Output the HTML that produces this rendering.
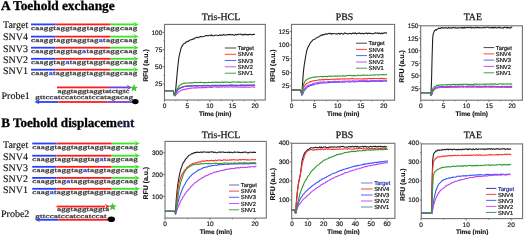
<!DOCTYPE html>
<html><head><meta charset="utf-8"><style>
html,body{margin:0;padding:0;background:#fff;width:524px;height:235px;overflow:hidden}
svg{display:block;will-change:transform;text-rendering:geometricPrecision}
</style></head><body>
<svg width="524" height="235" viewBox="0 0 524 235">
<rect width="524" height="235" fill="#fff"/>
<rect x="164.50" y="24.40" width="100.80" height="75.60" fill="none" stroke="#707070" stroke-width="1.1"/>
<text x="221.00" y="20.00" font-family="'Liberation Serif', serif" font-size="9.8" fill="#111" stroke="#111" stroke-width="0.25" text-anchor="middle">Tris-HCL</text>
<line x1="162.70" y1="84.00" x2="164.50" y2="84.00" stroke="#555" stroke-width="0.8"/>
<text x="162.30" y="86.30" font-family="'Liberation Sans', sans-serif" font-size="6.5" fill="#222" stroke="#222" stroke-width="0.2" text-anchor="end">25</text>
<line x1="162.70" y1="66.80" x2="164.50" y2="66.80" stroke="#555" stroke-width="0.8"/>
<text x="162.30" y="69.10" font-family="'Liberation Sans', sans-serif" font-size="6.5" fill="#222" stroke="#222" stroke-width="0.2" text-anchor="end">50</text>
<line x1="162.70" y1="49.60" x2="164.50" y2="49.60" stroke="#555" stroke-width="0.8"/>
<text x="162.30" y="51.90" font-family="'Liberation Sans', sans-serif" font-size="6.5" fill="#222" stroke="#222" stroke-width="0.2" text-anchor="end">75</text>
<line x1="162.70" y1="32.40" x2="164.50" y2="32.40" stroke="#555" stroke-width="0.8"/>
<text x="162.30" y="34.70" font-family="'Liberation Sans', sans-serif" font-size="6.5" fill="#222" stroke="#222" stroke-width="0.2" text-anchor="end">100</text>
<line x1="163.30" y1="75.40" x2="164.50" y2="75.40" stroke="#555" stroke-width="0.6"/>
<line x1="163.30" y1="58.20" x2="164.50" y2="58.20" stroke="#555" stroke-width="0.6"/>
<line x1="163.30" y1="41.00" x2="164.50" y2="41.00" stroke="#555" stroke-width="0.6"/>
<line x1="164.50" y1="100.00" x2="164.50" y2="101.80" stroke="#555" stroke-width="0.8"/>
<text x="164.50" y="108.00" font-family="'Liberation Sans', sans-serif" font-size="6.5" fill="#222" stroke="#222" stroke-width="0.2" text-anchor="middle">0</text>
<line x1="187.20" y1="100.00" x2="187.20" y2="101.80" stroke="#555" stroke-width="0.8"/>
<text x="187.20" y="108.00" font-family="'Liberation Sans', sans-serif" font-size="6.5" fill="#222" stroke="#222" stroke-width="0.2" text-anchor="middle">5</text>
<line x1="209.80" y1="100.00" x2="209.80" y2="101.80" stroke="#555" stroke-width="0.8"/>
<text x="209.80" y="108.00" font-family="'Liberation Sans', sans-serif" font-size="6.5" fill="#222" stroke="#222" stroke-width="0.2" text-anchor="middle">10</text>
<line x1="232.40" y1="100.00" x2="232.40" y2="101.80" stroke="#555" stroke-width="0.8"/>
<text x="232.40" y="108.00" font-family="'Liberation Sans', sans-serif" font-size="6.5" fill="#222" stroke="#222" stroke-width="0.2" text-anchor="middle">15</text>
<line x1="255.00" y1="100.00" x2="255.00" y2="101.80" stroke="#555" stroke-width="0.8"/>
<text x="255.00" y="108.00" font-family="'Liberation Sans', sans-serif" font-size="6.5" fill="#222" stroke="#222" stroke-width="0.2" text-anchor="middle">20</text>
<line x1="175.85" y1="100.00" x2="175.85" y2="101.20" stroke="#555" stroke-width="0.6"/>
<line x1="198.50" y1="100.00" x2="198.50" y2="101.20" stroke="#555" stroke-width="0.6"/>
<line x1="221.10" y1="100.00" x2="221.10" y2="101.20" stroke="#555" stroke-width="0.6"/>
<line x1="243.70" y1="100.00" x2="243.70" y2="101.20" stroke="#555" stroke-width="0.6"/>
<text x="215.10" y="115.80" font-family="'Liberation Sans', sans-serif" font-weight="bold" font-size="6.45" fill="#111" stroke="#111" stroke-width="0.14" text-anchor="middle">Time (min)</text>
<text transform="translate(147.90,65.60) rotate(-90)" font-family="'Liberation Sans', sans-serif" font-weight="bold" font-size="6.9" fill="#111" stroke="#111" stroke-width="0.14" text-anchor="middle">RFU (a.u.)</text>
<path d="M164.50,90.80 L165.30,90.80 L166.10,90.80 L166.90,90.80 L167.70,90.80 L168.50,90.80 L169.30,90.80 L170.10,90.80 L170.90,90.80 L171.70,90.80 L172.50,90.80 L173.30,90.80 L174.10,94.48 L174.90,94.33 L175.70,89.74 L176.50,80.63 L177.30,71.83 L178.10,63.95 L178.90,57.53 L179.70,53.66 L180.50,50.28 L181.30,47.52 L182.10,46.13 L182.90,44.73 L183.70,43.81 L184.50,43.26 L185.30,43.22 L186.10,41.81 L186.90,41.88 L187.70,41.17 L188.50,41.34 L189.30,40.48 L190.10,40.08 L190.90,39.80 L191.70,39.61 L192.50,39.53 L193.30,38.76 L194.10,39.01 L194.90,37.93 L195.70,37.84 L196.50,37.40 L197.30,37.19 L198.10,37.71 L198.90,37.45 L199.70,36.68 L200.50,36.51 L201.30,36.59 L202.10,36.79 L202.90,36.71 L203.70,36.49 L204.50,36.19 L205.30,35.57 L206.10,35.74 L206.90,35.42 L207.70,35.71 L208.50,35.69 L209.30,35.24 L210.10,35.24 L210.90,35.78 L211.70,34.91 L212.50,35.72 L213.30,35.78 L214.10,35.81 L214.90,35.15 L215.70,35.30 L216.50,35.30 L217.30,35.32 L218.10,35.66 L218.90,35.31 L219.70,34.86 L220.50,35.44 L221.30,35.00 L222.10,35.11 L222.90,35.22 L223.70,34.40 L224.50,35.22 L225.30,35.07 L226.10,34.86 L226.90,34.88 L227.70,34.79 L228.50,34.47 L229.30,34.82 L230.10,34.26 L230.90,34.75 L231.70,34.89 L232.50,34.65 L233.30,34.77 L234.10,35.18 L234.90,35.09 L235.70,34.24 L236.50,34.95 L237.30,34.75 L238.10,34.10 L238.90,34.42 L239.70,34.27 L240.50,34.08 L241.30,34.57 L242.10,34.99 L242.90,34.30 L243.70,34.89 L244.50,34.68 L245.30,34.04 L246.10,34.82 L246.90,34.52 L247.70,34.86 L248.50,34.61 L249.30,34.62 L250.10,34.16 L250.90,34.65 L251.70,34.77 L252.50,34.67 L253.30,34.18 L254.10,34.51 L254.90,34.19 L255.00,34.20" fill="none" stroke="#222" stroke-width="1.1" stroke-linejoin="round"/>
<path d="M164.50,90.80 L165.30,90.80 L166.10,90.80 L166.90,90.80 L167.70,90.80 L168.50,90.80 L169.30,90.80 L170.10,90.80 L170.90,90.80 L171.70,90.80 L172.50,90.80 L173.30,90.80 L174.10,94.88 L174.90,95.09 L175.70,93.24 L176.50,92.01 L177.30,90.44 L178.10,89.55 L178.90,88.80 L179.70,88.04 L180.50,87.70 L181.30,87.35 L182.10,87.10 L182.90,86.97 L183.70,86.57 L184.50,86.42 L185.30,86.49 L186.10,85.90 L186.90,86.13 L187.70,86.16 L188.50,85.86 L189.30,85.77 L190.10,86.09 L190.90,85.72 L191.70,85.66 L192.50,85.78 L193.30,85.92 L194.10,85.54 L194.90,85.65 L195.70,85.64 L196.50,85.92 L197.30,85.67 L198.10,85.91 L198.90,85.48 L199.70,85.57 L200.50,85.75 L201.30,85.87 L202.10,85.60 L202.90,85.45 L203.70,85.38 L204.50,85.61 L205.30,85.39 L206.10,85.75 L206.90,85.76 L207.70,85.35 L208.50,85.39 L209.30,85.70 L210.10,85.59 L210.90,85.68 L211.70,85.39 L212.50,85.25 L213.30,85.33 L214.10,85.62 L214.90,85.30 L215.70,85.33 L216.50,85.37 L217.30,85.36 L218.10,85.34 L218.90,85.64 L219.70,85.17 L220.50,85.07 L221.30,85.62 L222.10,85.58 L222.90,85.63 L223.70,85.29 L224.50,85.59 L225.30,85.57 L226.10,85.14 L226.90,85.44 L227.70,85.49 L228.50,85.37 L229.30,85.28 L230.10,85.13 L230.90,85.16 L231.70,85.08 L232.50,84.98 L233.30,85.28 L234.10,85.09 L234.90,85.40 L235.70,84.93 L236.50,85.44 L237.30,85.30 L238.10,85.43 L238.90,85.41 L239.70,85.40 L240.50,85.20 L241.30,84.85 L242.10,85.29 L242.90,84.93 L243.70,85.00 L244.50,85.21 L245.30,85.12 L246.10,85.05 L246.90,85.35 L247.70,85.15 L248.50,84.98 L249.30,84.92 L250.10,85.27 L250.90,85.03 L251.70,85.21 L252.50,84.94 L253.30,84.84 L254.10,85.03 L254.90,85.19 L255.00,85.00" fill="none" stroke="#ff3030" stroke-width="1.1" stroke-linejoin="round"/>
<path d="M164.50,90.80 L165.30,90.80 L166.10,90.80 L166.90,90.80 L167.70,90.80 L168.50,90.80 L169.30,90.80 L170.10,90.80 L170.90,90.80 L171.70,90.80 L172.50,90.80 L173.30,90.80 L174.10,94.88 L174.90,95.33 L175.70,93.29 L176.50,91.46 L177.30,90.39 L178.10,89.48 L178.90,88.69 L179.70,88.09 L180.50,88.27 L181.30,87.88 L182.10,87.13 L182.90,87.12 L183.70,86.78 L184.50,86.58 L185.30,86.44 L186.10,86.48 L186.90,86.34 L187.70,86.13 L188.50,85.99 L189.30,86.04 L190.10,85.88 L190.90,86.11 L191.70,86.18 L192.50,85.95 L193.30,85.74 L194.10,85.78 L194.90,85.88 L195.70,86.00 L196.50,86.09 L197.30,85.83 L198.10,86.07 L198.90,85.95 L199.70,85.82 L200.50,85.78 L201.30,85.84 L202.10,85.95 L202.90,85.77 L203.70,85.92 L204.50,85.77 L205.30,85.63 L206.10,85.79 L206.90,85.87 L207.70,85.49 L208.50,85.69 L209.30,85.68 L210.10,85.94 L210.90,85.97 L211.70,85.62 L212.50,85.92 L213.30,85.85 L214.10,85.52 L214.90,85.63 L215.70,85.42 L216.50,85.83 L217.30,85.73 L218.10,85.85 L218.90,85.79 L219.70,85.71 L220.50,85.74 L221.30,85.63 L222.10,85.34 L222.90,85.63 L223.70,85.27 L224.50,85.35 L225.30,85.72 L226.10,85.27 L226.90,85.29 L227.70,85.29 L228.50,85.75 L229.30,85.32 L230.10,85.22 L230.90,85.71 L231.70,85.27 L232.50,85.70 L233.30,85.59 L234.10,85.68 L234.90,85.74 L235.70,85.51 L236.50,85.64 L237.30,85.17 L238.10,85.61 L238.90,85.45 L239.70,85.56 L240.50,85.19 L241.30,85.57 L242.10,85.67 L242.90,85.14 L243.70,85.29 L244.50,85.43 L245.30,85.58 L246.10,85.23 L246.90,85.18 L247.70,85.22 L248.50,85.43 L249.30,85.50 L250.10,85.28 L250.90,85.26 L251.70,85.27 L252.50,85.23 L253.30,85.27 L254.10,85.06 L254.90,85.30 L255.00,85.30" fill="none" stroke="#3a55ff" stroke-width="1.1" stroke-linejoin="round"/>
<path d="M164.50,90.80 L165.30,90.80 L166.10,90.80 L166.90,90.80 L167.70,90.80 L168.50,90.80 L169.30,90.80 L170.10,90.80 L170.90,90.80 L171.70,90.80 L172.50,90.80 L173.30,90.80 L174.10,94.88 L174.90,95.97 L175.70,95.27 L176.50,94.02 L177.30,93.22 L178.10,92.70 L178.90,91.71 L179.70,91.13 L180.50,90.53 L181.30,90.32 L182.10,89.86 L182.90,89.58 L183.70,89.65 L184.50,89.61 L185.30,89.04 L186.10,89.12 L186.90,88.79 L187.70,88.91 L188.50,88.62 L189.30,88.32 L190.10,88.18 L190.90,87.98 L191.70,88.17 L192.50,88.04 L193.30,87.85 L194.10,87.91 L194.90,87.84 L195.70,88.06 L196.50,87.64 L197.30,88.10 L198.10,87.75 L198.90,87.78 L199.70,87.66 L200.50,87.84 L201.30,87.79 L202.10,87.59 L202.90,87.51 L203.70,87.61 L204.50,87.66 L205.30,87.35 L206.10,87.52 L206.90,87.62 L207.70,87.30 L208.50,87.13 L209.30,87.10 L210.10,87.36 L210.90,87.31 L211.70,87.46 L212.50,87.37 L213.30,86.99 L214.10,86.93 L214.90,86.96 L215.70,86.90 L216.50,87.19 L217.30,87.27 L218.10,87.28 L218.90,86.89 L219.70,87.24 L220.50,86.90 L221.30,86.96 L222.10,87.14 L222.90,86.75 L223.70,86.76 L224.50,87.20 L225.30,86.88 L226.10,86.91 L226.90,87.05 L227.70,87.11 L228.50,86.70 L229.30,86.90 L230.10,86.96 L230.90,86.99 L231.70,86.83 L232.50,87.05 L233.30,87.27 L234.10,86.93 L234.90,87.03 L235.70,86.77 L236.50,86.86 L237.30,87.10 L238.10,86.77 L238.90,87.23 L239.70,87.25 L240.50,86.76 L241.30,87.26 L242.10,86.92 L242.90,87.16 L243.70,87.15 L244.50,86.88 L245.30,87.11 L246.10,87.09 L246.90,87.18 L247.70,86.86 L248.50,87.15 L249.30,87.28 L250.10,87.10 L250.90,87.02 L251.70,86.77 L252.50,87.00 L253.30,86.91 L254.10,87.13 L254.90,87.11 L255.00,87.00" fill="none" stroke="#c040f0" stroke-width="1.1" stroke-linejoin="round"/>
<path d="M164.50,90.80 L165.30,90.80 L166.10,90.80 L166.90,90.80 L167.70,90.80 L168.50,90.80 L169.30,90.80 L170.10,90.80 L170.90,90.80 L171.70,90.80 L172.50,90.80 L173.30,90.80 L174.10,94.88 L174.90,95.17 L175.70,92.42 L176.50,90.22 L177.30,88.86 L178.10,87.52 L178.90,86.08 L179.70,85.35 L180.50,84.82 L181.30,84.05 L182.10,84.11 L182.90,83.71 L183.70,83.28 L184.50,82.93 L185.30,83.29 L186.10,82.98 L186.90,83.07 L187.70,83.12 L188.50,82.97 L189.30,83.05 L190.10,82.70 L190.90,82.90 L191.70,82.65 L192.50,82.92 L193.30,82.86 L194.10,82.36 L194.90,82.36 L195.70,82.38 L196.50,82.81 L197.30,82.48 L198.10,82.57 L198.90,82.36 L199.70,82.47 L200.50,82.38 L201.30,82.35 L202.10,82.48 L202.90,82.47 L203.70,82.65 L204.50,82.50 L205.30,82.64 L206.10,82.59 L206.90,82.66 L207.70,82.45 L208.50,82.14 L209.30,82.55 L210.10,82.60 L210.90,82.56 L211.70,82.35 L212.50,82.42 L213.30,82.11 L214.10,82.48 L214.90,82.32 L215.70,82.14 L216.50,82.00 L217.30,82.46 L218.10,82.54 L218.90,81.99 L219.70,82.41 L220.50,82.17 L221.30,82.01 L222.10,82.09 L222.90,82.37 L223.70,82.42 L224.50,81.92 L225.30,82.26 L226.10,81.91 L226.90,82.31 L227.70,82.07 L228.50,82.40 L229.30,82.45 L230.10,82.16 L230.90,82.45 L231.70,82.03 L232.50,81.89 L233.30,82.20 L234.10,81.85 L234.90,81.95 L235.70,82.07 L236.50,82.18 L237.30,81.91 L238.10,81.83 L238.90,82.33 L239.70,81.99 L240.50,82.37 L241.30,82.33 L242.10,82.01 L242.90,82.06 L243.70,82.09 L244.50,82.16 L245.30,82.12 L246.10,82.10 L246.90,82.13 L247.70,82.32 L248.50,82.05 L249.30,82.00 L250.10,82.17 L250.90,81.87 L251.70,81.91 L252.50,82.31 L253.30,82.03 L254.10,82.04 L254.90,81.71 L255.00,82.00" fill="none" stroke="#2f9a2f" stroke-width="1.1" stroke-linejoin="round"/>
<line x1="224.80" y1="48.00" x2="236.20" y2="48.00" stroke="#333" stroke-width="1.0" stroke-opacity="0.9"/>
<text x="237.80" y="50.10" font-family="'Liberation Sans', sans-serif" font-size="5.8" fill="#1a1a1a" stroke="#1a1a1a" stroke-width="0.22">Target</text>
<line x1="224.80" y1="54.30" x2="236.20" y2="54.30" stroke="#ff3030" stroke-width="1.0" stroke-opacity="0.9"/>
<text x="237.80" y="56.40" font-family="'Liberation Sans', sans-serif" font-size="5.8" fill="#1a1a1a" stroke="#1a1a1a" stroke-width="0.22">SNV4</text>
<line x1="224.80" y1="60.50" x2="236.20" y2="60.50" stroke="#3a55ff" stroke-width="1.0" stroke-opacity="0.9"/>
<text x="237.80" y="62.60" font-family="'Liberation Sans', sans-serif" font-size="5.8" fill="#1a1a1a" stroke="#1a1a1a" stroke-width="0.22">SNV3</text>
<line x1="224.80" y1="66.80" x2="236.20" y2="66.80" stroke="#c040f0" stroke-width="1.0" stroke-opacity="0.9"/>
<text x="237.80" y="68.90" font-family="'Liberation Sans', sans-serif" font-size="5.8" fill="#1a1a1a" stroke="#1a1a1a" stroke-width="0.22">SNV2</text>
<line x1="224.80" y1="73.20" x2="236.20" y2="73.20" stroke="#2f9a2f" stroke-width="1.0" stroke-opacity="0.9"/>
<text x="237.80" y="75.30" font-family="'Liberation Sans', sans-serif" font-size="5.8" fill="#1a1a1a" stroke="#1a1a1a" stroke-width="0.22">SNV1</text>
<rect x="291.50" y="24.40" width="103.10" height="75.80" fill="none" stroke="#707070" stroke-width="1.1"/>
<text x="344.50" y="20.00" font-family="'Liberation Serif', serif" font-size="9.8" fill="#111" stroke="#111" stroke-width="0.25" text-anchor="middle">PBS</text>
<line x1="289.70" y1="86.00" x2="291.50" y2="86.00" stroke="#555" stroke-width="0.8"/>
<text x="289.30" y="88.30" font-family="'Liberation Sans', sans-serif" font-size="6.5" fill="#222" stroke="#222" stroke-width="0.2" text-anchor="end">25</text>
<line x1="289.70" y1="72.40" x2="291.50" y2="72.40" stroke="#555" stroke-width="0.8"/>
<text x="289.30" y="74.70" font-family="'Liberation Sans', sans-serif" font-size="6.5" fill="#222" stroke="#222" stroke-width="0.2" text-anchor="end">50</text>
<line x1="289.70" y1="58.70" x2="291.50" y2="58.70" stroke="#555" stroke-width="0.8"/>
<text x="289.30" y="61.00" font-family="'Liberation Sans', sans-serif" font-size="6.5" fill="#222" stroke="#222" stroke-width="0.2" text-anchor="end">75</text>
<line x1="289.70" y1="45.00" x2="291.50" y2="45.00" stroke="#555" stroke-width="0.8"/>
<text x="289.30" y="47.30" font-family="'Liberation Sans', sans-serif" font-size="6.5" fill="#222" stroke="#222" stroke-width="0.2" text-anchor="end">100</text>
<line x1="289.70" y1="31.40" x2="291.50" y2="31.40" stroke="#555" stroke-width="0.8"/>
<text x="289.30" y="33.70" font-family="'Liberation Sans', sans-serif" font-size="6.5" fill="#222" stroke="#222" stroke-width="0.2" text-anchor="end">125</text>
<line x1="290.30" y1="79.20" x2="291.50" y2="79.20" stroke="#555" stroke-width="0.6"/>
<line x1="290.30" y1="65.55" x2="291.50" y2="65.55" stroke="#555" stroke-width="0.6"/>
<line x1="290.30" y1="51.85" x2="291.50" y2="51.85" stroke="#555" stroke-width="0.6"/>
<line x1="290.30" y1="38.20" x2="291.50" y2="38.20" stroke="#555" stroke-width="0.6"/>
<line x1="291.60" y1="100.20" x2="291.60" y2="102.00" stroke="#555" stroke-width="0.8"/>
<text x="291.60" y="108.20" font-family="'Liberation Sans', sans-serif" font-size="6.5" fill="#222" stroke="#222" stroke-width="0.2" text-anchor="middle">0</text>
<line x1="314.60" y1="100.20" x2="314.60" y2="102.00" stroke="#555" stroke-width="0.8"/>
<text x="314.60" y="108.20" font-family="'Liberation Sans', sans-serif" font-size="6.5" fill="#222" stroke="#222" stroke-width="0.2" text-anchor="middle">5</text>
<line x1="337.70" y1="100.20" x2="337.70" y2="102.00" stroke="#555" stroke-width="0.8"/>
<text x="337.70" y="108.20" font-family="'Liberation Sans', sans-serif" font-size="6.5" fill="#222" stroke="#222" stroke-width="0.2" text-anchor="middle">10</text>
<line x1="360.80" y1="100.20" x2="360.80" y2="102.00" stroke="#555" stroke-width="0.8"/>
<text x="360.80" y="108.20" font-family="'Liberation Sans', sans-serif" font-size="6.5" fill="#222" stroke="#222" stroke-width="0.2" text-anchor="middle">15</text>
<line x1="383.80" y1="100.20" x2="383.80" y2="102.00" stroke="#555" stroke-width="0.8"/>
<text x="383.80" y="108.20" font-family="'Liberation Sans', sans-serif" font-size="6.5" fill="#222" stroke="#222" stroke-width="0.2" text-anchor="middle">20</text>
<line x1="303.10" y1="100.20" x2="303.10" y2="101.40" stroke="#555" stroke-width="0.6"/>
<line x1="326.15" y1="100.20" x2="326.15" y2="101.40" stroke="#555" stroke-width="0.6"/>
<line x1="349.25" y1="100.20" x2="349.25" y2="101.40" stroke="#555" stroke-width="0.6"/>
<line x1="372.30" y1="100.20" x2="372.30" y2="101.40" stroke="#555" stroke-width="0.6"/>
<text x="343.25" y="116.00" font-family="'Liberation Sans', sans-serif" font-weight="bold" font-size="6.45" fill="#111" stroke="#111" stroke-width="0.14" text-anchor="middle">Time (min)</text>
<text transform="translate(274.90,65.70) rotate(-90)" font-family="'Liberation Sans', sans-serif" font-weight="bold" font-size="6.9" fill="#111" stroke="#111" stroke-width="0.14" text-anchor="middle">RFU (a.u.)</text>
<path d="M291.50,90.00 L292.30,90.00 L293.10,90.00 L293.90,90.00 L294.70,90.00 L295.50,90.00 L296.30,90.00 L297.10,90.00 L297.90,90.00 L298.70,90.00 L299.50,90.00 L300.30,90.00 L301.10,91.99 L301.90,94.01 L302.70,81.34 L303.50,70.82 L304.30,64.63 L305.10,59.81 L305.90,54.98 L306.70,50.82 L307.50,48.34 L308.30,46.64 L309.10,45.35 L309.90,43.51 L310.70,42.34 L311.50,41.64 L312.30,40.74 L313.10,39.68 L313.90,39.52 L314.70,39.29 L315.50,38.27 L316.30,37.97 L317.10,37.61 L317.90,37.22 L318.70,36.94 L319.50,36.05 L320.30,35.96 L321.10,35.01 L321.90,35.53 L322.70,34.69 L323.50,34.54 L324.30,34.79 L325.10,33.95 L325.90,33.73 L326.70,34.36 L327.50,34.09 L328.30,33.50 L329.10,33.41 L329.90,33.74 L330.70,33.34 L331.50,34.22 L332.30,33.49 L333.10,33.57 L333.90,33.67 L334.70,33.79 L335.50,33.68 L336.30,33.88 L337.10,33.90 L337.90,33.64 L338.70,33.25 L339.50,34.20 L340.30,33.87 L341.10,33.19 L341.90,33.57 L342.70,33.90 L343.50,34.15 L344.30,33.12 L345.10,33.04 L345.90,33.55 L346.70,33.47 L347.50,33.98 L348.30,33.90 L349.10,33.34 L349.90,33.43 L350.70,33.60 L351.50,33.92 L352.30,33.17 L353.10,33.37 L353.90,33.03 L354.70,33.63 L355.50,32.94 L356.30,33.94 L357.10,33.48 L357.90,33.52 L358.70,32.98 L359.50,33.14 L360.30,33.39 L361.10,33.81 L361.90,33.46 L362.70,33.17 L363.50,33.93 L364.30,33.57 L365.10,33.42 L365.90,33.06 L366.70,33.16 L367.50,33.81 L368.30,32.97 L369.10,33.40 L369.90,33.49 L370.70,33.19 L371.50,33.64 L372.30,33.79 L373.10,33.73 L373.90,33.59 L374.70,33.00 L375.50,32.83 L376.30,33.24 L377.10,33.10 L377.90,32.96 L378.70,33.70 L379.50,32.97 L380.30,33.63 L381.10,33.75 L381.90,32.84 L382.70,33.71 L383.50,33.13 L384.30,32.92 L385.10,32.88 L385.90,32.71 L386.70,33.20 L387.00,33.20" fill="none" stroke="#222" stroke-width="1.1" stroke-linejoin="round"/>
<path d="M291.50,90.00 L292.30,90.00 L293.10,90.00 L293.90,90.00 L294.70,90.00 L295.50,90.00 L296.30,90.00 L297.10,90.00 L297.90,90.00 L298.70,90.00 L299.50,90.00 L300.30,90.00 L301.10,91.58 L301.90,94.44 L302.70,90.60 L303.50,87.60 L304.30,86.07 L305.10,85.25 L305.90,84.15 L306.70,83.42 L307.50,83.01 L308.30,82.87 L309.10,82.45 L309.90,81.74 L310.70,81.54 L311.50,81.69 L312.30,80.98 L313.10,80.95 L313.90,80.66 L314.70,80.71 L315.50,80.46 L316.30,80.45 L317.10,80.21 L317.90,79.93 L318.70,79.85 L319.50,79.72 L320.30,80.10 L321.10,79.61 L321.90,79.50 L322.70,80.01 L323.50,79.49 L324.30,79.86 L325.10,79.32 L325.90,79.51 L326.70,79.32 L327.50,79.64 L328.30,79.47 L329.10,79.45 L329.90,79.48 L330.70,79.52 L331.50,79.17 L332.30,79.29 L333.10,79.17 L333.90,78.94 L334.70,79.35 L335.50,79.19 L336.30,79.30 L337.10,78.91 L337.90,79.09 L338.70,79.03 L339.50,79.17 L340.30,78.76 L341.10,78.91 L341.90,78.97 L342.70,78.71 L343.50,78.99 L344.30,79.08 L345.10,78.88 L345.90,79.00 L346.70,78.97 L347.50,78.72 L348.30,78.79 L349.10,79.16 L349.90,78.76 L350.70,78.80 L351.50,78.58 L352.30,78.65 L353.10,78.61 L353.90,79.06 L354.70,78.93 L355.50,79.01 L356.30,79.07 L357.10,78.84 L357.90,79.02 L358.70,78.77 L359.50,78.70 L360.30,79.01 L361.10,78.97 L361.90,78.99 L362.70,78.70 L363.50,78.87 L364.30,78.64 L365.10,78.99 L365.90,78.94 L366.70,78.55 L367.50,78.93 L368.30,78.48 L369.10,78.42 L369.90,78.79 L370.70,78.52 L371.50,78.65 L372.30,78.72 L373.10,78.35 L373.90,78.77 L374.70,78.48 L375.50,78.57 L376.30,78.51 L377.10,78.74 L377.90,78.74 L378.70,78.45 L379.50,78.34 L380.30,78.45 L381.10,78.51 L381.90,78.30 L382.70,78.34 L383.50,78.69 L384.30,78.65 L385.10,78.81 L385.90,78.80 L386.70,78.73 L387.00,78.50" fill="none" stroke="#ff3030" stroke-width="1.1" stroke-linejoin="round"/>
<path d="M291.50,90.00 L292.30,90.00 L293.10,90.00 L293.90,90.00 L294.70,90.00 L295.50,90.00 L296.30,90.00 L297.10,90.00 L297.90,90.00 L298.70,90.00 L299.50,90.00 L300.30,90.00 L301.10,91.94 L301.90,95.43 L302.70,94.27 L303.50,92.39 L304.30,90.35 L305.10,89.70 L305.90,88.56 L306.70,87.80 L307.50,86.97 L308.30,86.43 L309.10,86.42 L309.90,85.67 L310.70,85.32 L311.50,85.38 L312.30,85.13 L313.10,84.38 L313.90,84.72 L314.70,84.28 L315.50,84.04 L316.30,83.73 L317.10,83.76 L317.90,83.99 L318.70,83.44 L319.50,83.24 L320.30,83.13 L321.10,83.02 L321.90,83.05 L322.70,83.30 L323.50,82.71 L324.30,82.69 L325.10,83.07 L325.90,83.03 L326.70,82.96 L327.50,82.45 L328.30,82.46 L329.10,82.77 L329.90,82.45 L330.70,82.54 L331.50,82.26 L332.30,82.05 L333.10,82.21 L333.90,82.42 L334.70,82.41 L335.50,82.25 L336.30,82.15 L337.10,82.17 L337.90,82.08 L338.70,82.11 L339.50,82.26 L340.30,81.85 L341.10,82.06 L341.90,82.24 L342.70,82.16 L343.50,81.73 L344.30,82.18 L345.10,82.08 L345.90,81.66 L346.70,81.69 L347.50,81.63 L348.30,81.52 L349.10,82.06 L349.90,81.70 L350.70,81.95 L351.50,81.48 L352.30,81.40 L353.10,81.90 L353.90,81.83 L354.70,81.93 L355.50,81.73 L356.30,81.62 L357.10,81.75 L357.90,81.33 L358.70,81.58 L359.50,81.51 L360.30,81.31 L361.10,81.57 L361.90,81.39 L362.70,81.48 L363.50,81.39 L364.30,81.34 L365.10,81.35 L365.90,81.48 L366.70,81.70 L367.50,81.65 L368.30,81.60 L369.10,81.57 L369.90,81.22 L370.70,81.62 L371.50,81.18 L372.30,81.08 L373.10,81.29 L373.90,81.42 L374.70,81.17 L375.50,81.33 L376.30,81.10 L377.10,81.50 L377.90,81.17 L378.70,81.17 L379.50,81.19 L380.30,81.38 L381.10,81.43 L381.90,81.14 L382.70,81.07 L383.50,81.15 L384.30,80.81 L385.10,81.00 L385.90,81.24 L386.70,81.17 L387.00,81.00" fill="none" stroke="#3a55ff" stroke-width="1.1" stroke-linejoin="round"/>
<path d="M291.50,90.00 L292.30,90.00 L293.10,90.00 L293.90,90.00 L294.70,90.00 L295.50,90.00 L296.30,90.00 L297.10,90.00 L297.90,90.00 L298.70,90.00 L299.50,90.00 L300.30,90.00 L301.10,91.69 L301.90,94.74 L302.70,92.27 L303.50,89.85 L304.30,88.74 L305.10,87.99 L305.90,87.18 L306.70,86.30 L307.50,85.69 L308.30,85.34 L309.10,85.32 L309.90,84.81 L310.70,84.81 L311.50,84.40 L312.30,84.24 L313.10,83.43 L313.90,83.28 L314.70,82.96 L315.50,83.02 L316.30,82.78 L317.10,82.45 L317.90,82.60 L318.70,82.21 L319.50,82.23 L320.30,82.11 L321.10,82.37 L321.90,82.08 L322.70,81.93 L323.50,81.75 L324.30,81.92 L325.10,81.99 L325.90,81.97 L326.70,82.07 L327.50,81.96 L328.30,81.58 L329.10,81.47 L329.90,81.81 L330.70,81.79 L331.50,81.58 L332.30,81.74 L333.10,81.54 L333.90,81.35 L334.70,81.25 L335.50,81.13 L336.30,81.48 L337.10,81.60 L337.90,81.58 L338.70,81.29 L339.50,81.39 L340.30,81.52 L341.10,81.43 L341.90,81.28 L342.70,81.15 L343.50,81.19 L344.30,80.96 L345.10,80.95 L345.90,81.23 L346.70,81.40 L347.50,81.11 L348.30,81.01 L349.10,80.96 L349.90,81.00 L350.70,81.19 L351.50,80.96 L352.30,81.25 L353.10,80.74 L353.90,80.82 L354.70,80.93 L355.50,80.85 L356.30,81.09 L357.10,81.06 L357.90,81.11 L358.70,80.91 L359.50,80.54 L360.30,80.85 L361.10,80.82 L361.90,80.77 L362.70,80.63 L363.50,80.88 L364.30,80.99 L365.10,80.49 L365.90,80.82 L366.70,80.63 L367.50,80.70 L368.30,80.92 L369.10,80.94 L369.90,80.74 L370.70,80.46 L371.50,80.88 L372.30,80.43 L373.10,80.54 L373.90,80.79 L374.70,80.47 L375.50,80.44 L376.30,80.83 L377.10,80.82 L377.90,80.43 L378.70,80.46 L379.50,80.39 L380.30,80.28 L381.10,80.34 L381.90,80.77 L382.70,80.22 L383.50,80.29 L384.30,80.26 L385.10,80.18 L385.90,80.43 L386.70,80.55 L387.00,80.40" fill="none" stroke="#c040f0" stroke-width="1.1" stroke-linejoin="round"/>
<path d="M291.50,90.00 L292.30,90.00 L293.10,90.00 L293.90,90.00 L294.70,90.00 L295.50,90.00 L296.30,90.00 L297.10,90.00 L297.90,90.00 L298.70,90.00 L299.50,90.00 L300.30,90.00 L301.10,91.58 L301.90,94.44 L302.70,88.11 L303.50,84.78 L304.30,82.80 L305.10,81.21 L305.90,80.24 L306.70,79.69 L307.50,79.30 L308.30,78.70 L309.10,78.24 L309.90,78.07 L310.70,78.17 L311.50,77.57 L312.30,77.57 L313.10,77.26 L313.90,77.15 L314.70,77.03 L315.50,77.10 L316.30,76.89 L317.10,76.74 L317.90,76.73 L318.70,76.70 L319.50,76.84 L320.30,76.53 L321.10,76.46 L321.90,76.67 L322.70,76.60 L323.50,76.74 L324.30,76.31 L325.10,76.48 L325.90,76.45 L326.70,76.19 L327.50,76.72 L328.30,76.25 L329.10,76.14 L329.90,76.34 L330.70,76.13 L331.50,76.38 L332.30,76.19 L333.10,76.03 L333.90,75.96 L334.70,76.34 L335.50,76.05 L336.30,76.33 L337.10,76.11 L337.90,76.37 L338.70,75.96 L339.50,75.90 L340.30,75.89 L341.10,76.19 L341.90,76.04 L342.70,75.84 L343.50,75.66 L344.30,75.99 L345.10,76.13 L345.90,75.88 L346.70,75.50 L347.50,75.49 L348.30,75.50 L349.10,75.52 L349.90,75.41 L350.70,75.40 L351.50,75.73 L352.30,75.85 L353.10,75.41 L353.90,75.85 L354.70,75.52 L355.50,75.69 L356.30,75.74 L357.10,75.73 L357.90,75.16 L358.70,75.30 L359.50,75.46 L360.30,75.64 L361.10,75.10 L361.90,75.20 L362.70,75.51 L363.50,75.04 L364.30,75.19 L365.10,75.13 L365.90,75.31 L366.70,75.44 L367.50,74.97 L368.30,75.28 L369.10,75.26 L369.90,75.29 L370.70,75.10 L371.50,75.30 L372.30,74.94 L373.10,74.95 L373.90,74.82 L374.70,75.13 L375.50,74.92 L376.30,74.77 L377.10,74.69 L377.90,75.00 L378.70,74.91 L379.50,74.95 L380.30,74.73 L381.10,74.77 L381.90,74.54 L382.70,74.85 L383.50,74.42 L384.30,74.66 L385.10,74.81 L385.90,74.74 L386.70,74.37 L387.00,74.60" fill="none" stroke="#2f9a2f" stroke-width="1.1" stroke-linejoin="round"/>
<line x1="356.00" y1="43.20" x2="367.00" y2="43.20" stroke="#333" stroke-width="1.0" stroke-opacity="0.9"/>
<text x="368.60" y="45.30" font-family="'Liberation Sans', sans-serif" font-size="5.8" fill="#1a1a1a" stroke="#1a1a1a" stroke-width="0.22">Target</text>
<line x1="356.00" y1="49.40" x2="367.00" y2="49.40" stroke="#ff3030" stroke-width="1.0" stroke-opacity="0.9"/>
<text x="368.60" y="51.50" font-family="'Liberation Sans', sans-serif" font-size="5.8" fill="#1a1a1a" stroke="#1a1a1a" stroke-width="0.22">SNV4</text>
<line x1="356.00" y1="55.60" x2="367.00" y2="55.60" stroke="#3a55ff" stroke-width="1.0" stroke-opacity="0.9"/>
<text x="368.60" y="57.70" font-family="'Liberation Sans', sans-serif" font-size="5.8" fill="#1a1a1a" stroke="#1a1a1a" stroke-width="0.22">SNV3</text>
<line x1="356.00" y1="62.00" x2="367.00" y2="62.00" stroke="#c040f0" stroke-width="1.0" stroke-opacity="0.9"/>
<text x="368.60" y="64.10" font-family="'Liberation Sans', sans-serif" font-size="5.8" fill="#1a1a1a" stroke="#1a1a1a" stroke-width="0.22">SNV2</text>
<line x1="356.00" y1="68.20" x2="367.00" y2="68.20" stroke="#2f9a2f" stroke-width="1.0" stroke-opacity="0.9"/>
<text x="368.60" y="70.30" font-family="'Liberation Sans', sans-serif" font-size="5.8" fill="#1a1a1a" stroke="#1a1a1a" stroke-width="0.22">SNV1</text>
<rect x="420.70" y="25.80" width="101.70" height="74.40" fill="none" stroke="#707070" stroke-width="1.1"/>
<text x="472.80" y="20.00" font-family="'Liberation Serif', serif" font-size="9.8" fill="#111" stroke="#111" stroke-width="0.25" text-anchor="middle">TAE</text>
<line x1="418.90" y1="88.50" x2="420.70" y2="88.50" stroke="#555" stroke-width="0.8"/>
<text x="418.50" y="90.80" font-family="'Liberation Sans', sans-serif" font-size="6.5" fill="#222" stroke="#222" stroke-width="0.2" text-anchor="end">25</text>
<line x1="418.90" y1="75.90" x2="420.70" y2="75.90" stroke="#555" stroke-width="0.8"/>
<text x="418.50" y="78.20" font-family="'Liberation Sans', sans-serif" font-size="6.5" fill="#222" stroke="#222" stroke-width="0.2" text-anchor="end">50</text>
<line x1="418.90" y1="63.30" x2="420.70" y2="63.30" stroke="#555" stroke-width="0.8"/>
<text x="418.50" y="65.60" font-family="'Liberation Sans', sans-serif" font-size="6.5" fill="#222" stroke="#222" stroke-width="0.2" text-anchor="end">75</text>
<line x1="418.90" y1="50.80" x2="420.70" y2="50.80" stroke="#555" stroke-width="0.8"/>
<text x="418.50" y="53.10" font-family="'Liberation Sans', sans-serif" font-size="6.5" fill="#222" stroke="#222" stroke-width="0.2" text-anchor="end">100</text>
<line x1="418.90" y1="38.20" x2="420.70" y2="38.20" stroke="#555" stroke-width="0.8"/>
<text x="418.50" y="40.50" font-family="'Liberation Sans', sans-serif" font-size="6.5" fill="#222" stroke="#222" stroke-width="0.2" text-anchor="end">125</text>
<line x1="418.90" y1="25.60" x2="420.70" y2="25.60" stroke="#555" stroke-width="0.8"/>
<text x="418.50" y="27.90" font-family="'Liberation Sans', sans-serif" font-size="6.5" fill="#222" stroke="#222" stroke-width="0.2" text-anchor="end">150</text>
<line x1="419.50" y1="82.20" x2="420.70" y2="82.20" stroke="#555" stroke-width="0.6"/>
<line x1="419.50" y1="69.60" x2="420.70" y2="69.60" stroke="#555" stroke-width="0.6"/>
<line x1="419.50" y1="57.05" x2="420.70" y2="57.05" stroke="#555" stroke-width="0.6"/>
<line x1="419.50" y1="44.50" x2="420.70" y2="44.50" stroke="#555" stroke-width="0.6"/>
<line x1="419.50" y1="31.90" x2="420.70" y2="31.90" stroke="#555" stroke-width="0.6"/>
<line x1="420.80" y1="100.20" x2="420.80" y2="102.00" stroke="#555" stroke-width="0.8"/>
<text x="420.80" y="108.20" font-family="'Liberation Sans', sans-serif" font-size="6.5" fill="#222" stroke="#222" stroke-width="0.2" text-anchor="middle">0</text>
<line x1="443.60" y1="100.20" x2="443.60" y2="102.00" stroke="#555" stroke-width="0.8"/>
<text x="443.60" y="108.20" font-family="'Liberation Sans', sans-serif" font-size="6.5" fill="#222" stroke="#222" stroke-width="0.2" text-anchor="middle">5</text>
<line x1="466.40" y1="100.20" x2="466.40" y2="102.00" stroke="#555" stroke-width="0.8"/>
<text x="466.40" y="108.20" font-family="'Liberation Sans', sans-serif" font-size="6.5" fill="#222" stroke="#222" stroke-width="0.2" text-anchor="middle">10</text>
<line x1="489.20" y1="100.20" x2="489.20" y2="102.00" stroke="#555" stroke-width="0.8"/>
<text x="489.20" y="108.20" font-family="'Liberation Sans', sans-serif" font-size="6.5" fill="#222" stroke="#222" stroke-width="0.2" text-anchor="middle">15</text>
<line x1="512.00" y1="100.20" x2="512.00" y2="102.00" stroke="#555" stroke-width="0.8"/>
<text x="512.00" y="108.20" font-family="'Liberation Sans', sans-serif" font-size="6.5" fill="#222" stroke="#222" stroke-width="0.2" text-anchor="middle">20</text>
<line x1="432.20" y1="100.20" x2="432.20" y2="101.40" stroke="#555" stroke-width="0.6"/>
<line x1="455.00" y1="100.20" x2="455.00" y2="101.40" stroke="#555" stroke-width="0.6"/>
<line x1="477.80" y1="100.20" x2="477.80" y2="101.40" stroke="#555" stroke-width="0.6"/>
<line x1="500.60" y1="100.20" x2="500.60" y2="101.40" stroke="#555" stroke-width="0.6"/>
<text x="471.75" y="116.00" font-family="'Liberation Sans', sans-serif" font-weight="bold" font-size="6.45" fill="#111" stroke="#111" stroke-width="0.14" text-anchor="middle">Time (min)</text>
<text transform="translate(404.10,66.40) rotate(-90)" font-family="'Liberation Sans', sans-serif" font-weight="bold" font-size="6.9" fill="#111" stroke="#111" stroke-width="0.14" text-anchor="middle">RFU (a.u.)</text>
<path d="M420.70,92.80 L421.30,92.80 L421.90,92.80 L422.50,92.80 L423.10,92.80 L423.70,92.80 L424.30,92.80 L424.90,92.80 L425.50,92.80 L426.10,92.80 L426.70,92.80 L427.30,92.80 L427.90,92.80 L428.50,92.80 L429.10,92.80 L429.70,92.80 L430.30,92.89 L430.90,94.91 L431.50,82.10 L432.10,57.02 L432.70,38.34 L433.30,33.42 L433.90,32.18 L434.50,30.45 L435.10,30.34 L435.70,29.68 L436.30,30.23 L436.90,29.46 L437.50,28.95 L438.10,28.74 L438.70,28.03 L439.30,28.47 L439.90,28.42 L440.50,28.38 L441.10,27.73 L441.70,27.64 L442.30,27.56 L442.90,28.29 L443.50,27.82 L444.10,27.77 L444.70,27.89 L445.30,28.06 L445.90,27.68 L446.50,27.69 L447.10,28.11 L447.70,28.12 L448.30,27.63 L448.90,27.40 L449.50,28.25 L450.10,28.05 L450.70,27.91 L451.30,27.71 L451.90,28.26 L452.50,27.73 L453.10,27.51 L453.70,27.39 L454.30,27.64 L454.90,27.88 L455.50,27.64 L456.10,28.22 L456.70,27.92 L457.30,27.72 L457.90,27.92 L458.50,27.86 L459.10,27.87 L459.70,27.75 L460.30,27.77 L460.90,27.74 L461.50,28.07 L462.10,27.43 L462.70,28.02 L463.30,27.53 L463.90,28.08 L464.50,27.30 L465.10,27.71 L465.70,27.66 L466.30,27.93 L466.90,27.42 L467.50,27.48 L468.10,27.35 L468.70,27.77 L469.30,27.78 L469.90,27.21 L470.50,27.38 L471.10,27.40 L471.70,28.16 L472.30,27.65 L472.90,27.76 L473.50,27.48 L474.10,27.85 L474.70,28.00 L475.30,27.86 L475.90,27.19 L476.50,27.63 L477.10,27.67 L477.70,27.23 L478.30,27.97 L478.90,27.50 L479.50,27.47 L480.10,27.80 L480.70,27.76 L481.30,27.67 L481.90,28.03 L482.50,27.69 L483.10,27.52 L483.70,27.24 L484.30,27.72 L484.90,27.53 L485.50,27.70 L486.10,27.51 L486.70,27.17 L487.30,27.20 L487.90,27.32 L488.50,27.26 L489.10,28.01 L489.70,27.74 L490.30,27.40 L490.90,27.87 L491.50,27.79 L492.10,27.22 L492.70,27.91 L493.30,27.38 L493.90,28.15 L494.50,27.29 L495.10,27.44 L495.70,27.40 L496.30,28.01 L496.90,27.96 L497.50,27.72 L498.10,27.29 L498.70,27.57 L499.30,27.84 L499.90,27.20 L500.50,28.06 L501.10,27.98 L501.70,28.07 L502.30,27.83 L502.90,27.75 L503.50,28.10 L504.10,27.39 L504.70,27.43 L505.30,27.25 L505.90,27.30 L506.50,27.92 L507.10,27.21 L507.70,27.86 L508.30,27.51 L508.90,27.99 L509.50,27.87 L510.10,27.79 L510.70,27.95 L511.30,27.15 L511.90,27.37 L512.00,27.60" fill="none" stroke="#222" stroke-width="1.1" stroke-linejoin="round"/>
<path d="M420.70,92.80 L421.50,92.80 L422.30,92.80 L423.10,92.80 L423.90,92.80 L424.70,92.80 L425.50,92.80 L426.30,92.80 L427.10,92.80 L427.90,92.80 L428.70,92.80 L429.50,92.80 L430.30,92.88 L431.10,95.42 L431.90,93.99 L432.70,91.00 L433.50,90.24 L434.30,89.50 L435.10,88.80 L435.90,88.48 L436.70,88.02 L437.50,88.05 L438.30,87.63 L439.10,87.74 L439.90,87.70 L440.70,87.53 L441.50,87.27 L442.30,87.29 L443.10,87.52 L443.90,87.22 L444.70,87.51 L445.50,87.32 L446.30,87.55 L447.10,87.45 L447.90,87.35 L448.70,87.10 L449.50,86.88 L450.30,87.16 L451.10,87.26 L451.90,87.34 L452.70,86.89 L453.50,86.85 L454.30,87.33 L455.10,87.17 L455.90,87.01 L456.70,87.16 L457.50,86.80 L458.30,87.03 L459.10,87.10 L459.90,87.06 L460.70,86.80 L461.50,86.78 L462.30,87.08 L463.10,87.23 L463.90,86.79 L464.70,86.71 L465.50,86.75 L466.30,87.18 L467.10,86.94 L467.90,86.98 L468.70,87.31 L469.50,87.08 L470.30,86.87 L471.10,87.14 L471.90,86.72 L472.70,86.89 L473.50,87.14 L474.30,86.83 L475.10,86.75 L475.90,87.04 L476.70,86.93 L477.50,87.32 L478.30,86.80 L479.10,87.23 L479.90,86.98 L480.70,87.23 L481.50,87.02 L482.30,87.16 L483.10,86.96 L483.90,86.90 L484.70,87.04 L485.50,87.25 L486.30,86.98 L487.10,86.92 L487.90,87.03 L488.70,86.85 L489.50,86.98 L490.30,87.14 L491.10,87.13 L491.90,87.16 L492.70,86.98 L493.50,86.83 L494.30,86.83 L495.10,87.02 L495.90,86.94 L496.70,87.17 L497.50,86.99 L498.30,87.29 L499.10,87.20 L499.90,87.24 L500.70,87.29 L501.50,87.17 L502.30,87.11 L503.10,87.05 L503.90,86.90 L504.70,87.35 L505.50,87.17 L506.30,86.94 L507.10,87.44 L507.90,87.23 L508.70,87.26 L509.50,87.15 L510.30,86.97 L511.10,87.50 L511.90,87.00 L512.00,87.20" fill="none" stroke="#ff3030" stroke-width="1.1" stroke-linejoin="round"/>
<path d="M420.70,92.80 L421.50,92.80 L422.30,92.80 L423.10,92.80 L423.90,92.80 L424.70,92.80 L425.50,92.80 L426.30,92.80 L427.10,92.80 L427.90,92.80 L428.70,92.80 L429.50,92.80 L430.30,92.88 L431.10,95.42 L431.90,93.57 L432.70,90.75 L433.50,89.35 L434.30,88.70 L435.10,87.98 L435.90,87.51 L436.70,87.06 L437.50,87.14 L438.30,86.73 L439.10,87.20 L439.90,86.59 L440.70,87.09 L441.50,86.58 L442.30,86.47 L443.10,86.83 L443.90,86.66 L444.70,86.76 L445.50,86.57 L446.30,86.61 L447.10,86.26 L447.90,86.58 L448.70,86.46 L449.50,86.71 L450.30,86.11 L451.10,86.13 L451.90,86.48 L452.70,86.62 L453.50,86.30 L454.30,86.46 L455.10,86.36 L455.90,86.25 L456.70,86.29 L457.50,86.37 L458.30,86.02 L459.10,86.18 L459.90,86.44 L460.70,86.15 L461.50,86.28 L462.30,86.15 L463.10,86.22 L463.90,86.39 L464.70,86.45 L465.50,86.58 L466.30,86.29 L467.10,86.13 L467.90,86.21 L468.70,86.04 L469.50,86.15 L470.30,86.36 L471.10,86.37 L471.90,86.15 L472.70,86.12 L473.50,86.07 L474.30,86.12 L475.10,86.32 L475.90,86.17 L476.70,86.55 L477.50,86.36 L478.30,86.22 L479.10,86.28 L479.90,86.05 L480.70,86.47 L481.50,86.48 L482.30,86.25 L483.10,86.47 L483.90,86.20 L484.70,86.17 L485.50,86.17 L486.30,86.16 L487.10,86.40 L487.90,86.43 L488.70,86.48 L489.50,86.11 L490.30,86.51 L491.10,86.34 L491.90,86.28 L492.70,86.36 L493.50,86.32 L494.30,86.18 L495.10,86.30 L495.90,86.45 L496.70,86.49 L497.50,86.62 L498.30,86.19 L499.10,86.61 L499.90,86.55 L500.70,86.50 L501.50,86.66 L502.30,86.16 L503.10,86.55 L503.90,86.62 L504.70,86.16 L505.50,86.44 L506.30,86.66 L507.10,86.27 L507.90,86.60 L508.70,86.64 L509.50,86.36 L510.30,86.18 L511.10,86.23 L511.90,86.60 L512.00,86.40" fill="none" stroke="#3a55ff" stroke-width="1.1" stroke-linejoin="round"/>
<path d="M420.70,92.80 L421.50,92.80 L422.30,92.80 L423.10,92.80 L423.90,92.80 L424.70,92.80 L425.50,92.80 L426.30,92.80 L427.10,92.80 L427.90,92.80 L428.70,92.80 L429.50,92.80 L430.30,92.88 L431.10,95.42 L431.90,94.10 L432.70,91.85 L433.50,90.02 L434.30,89.64 L435.10,88.64 L435.90,88.09 L436.70,87.64 L437.50,87.60 L438.30,87.51 L439.10,87.36 L439.90,87.37 L440.70,87.19 L441.50,87.47 L442.30,87.48 L443.10,87.33 L443.90,87.33 L444.70,86.84 L445.50,86.92 L446.30,86.86 L447.10,86.80 L447.90,87.26 L448.70,87.20 L449.50,87.18 L450.30,86.94 L451.10,86.66 L451.90,86.83 L452.70,86.59 L453.50,87.09 L454.30,86.69 L455.10,86.70 L455.90,87.08 L456.70,86.63 L457.50,87.06 L458.30,86.69 L459.10,86.90 L459.90,86.56 L460.70,87.04 L461.50,86.74 L462.30,86.71 L463.10,86.89 L463.90,86.86 L464.70,86.65 L465.50,86.57 L466.30,86.85 L467.10,86.51 L467.90,87.02 L468.70,86.71 L469.50,86.60 L470.30,86.70 L471.10,86.57 L471.90,86.69 L472.70,86.83 L473.50,86.74 L474.30,86.70 L475.10,86.67 L475.90,86.79 L476.70,86.97 L477.50,86.76 L478.30,86.96 L479.10,86.79 L479.90,86.57 L480.70,86.60 L481.50,87.01 L482.30,86.79 L483.10,86.73 L483.90,86.81 L484.70,87.01 L485.50,86.73 L486.30,86.72 L487.10,86.72 L487.90,86.51 L488.70,86.83 L489.50,86.79 L490.30,86.80 L491.10,86.77 L491.90,86.78 L492.70,86.93 L493.50,86.61 L494.30,87.09 L495.10,86.57 L495.90,87.02 L496.70,86.61 L497.50,86.98 L498.30,86.66 L499.10,86.55 L499.90,86.82 L500.70,87.00 L501.50,87.01 L502.30,87.03 L503.10,87.09 L503.90,86.53 L504.70,86.73 L505.50,86.56 L506.30,86.95 L507.10,86.77 L507.90,86.95 L508.70,86.98 L509.50,87.10 L510.30,86.91 L511.10,87.03 L511.90,86.83 L512.00,86.80" fill="none" stroke="#c040f0" stroke-width="1.1" stroke-linejoin="round"/>
<path d="M420.70,92.80 L421.50,92.80 L422.30,92.80 L423.10,92.80 L423.90,92.80 L424.70,92.80 L425.50,92.80 L426.30,92.80 L427.10,92.80 L427.90,92.80 L428.70,92.80 L429.50,92.80 L430.30,92.88 L431.10,95.42 L431.90,93.28 L432.70,88.83 L433.50,87.76 L434.30,86.71 L435.10,86.37 L435.90,85.86 L436.70,85.27 L437.50,85.42 L438.30,85.11 L439.10,85.14 L439.90,85.11 L440.70,85.07 L441.50,84.91 L442.30,84.63 L443.10,85.02 L443.90,85.02 L444.70,84.76 L445.50,84.78 L446.30,84.56 L447.10,84.91 L447.90,84.75 L448.70,84.45 L449.50,84.78 L450.30,84.86 L451.10,84.46 L451.90,84.83 L452.70,84.50 L453.50,84.31 L454.30,84.61 L455.10,84.37 L455.90,84.60 L456.70,84.50 L457.50,84.20 L458.30,84.44 L459.10,84.62 L459.90,84.39 L460.70,84.41 L461.50,84.60 L462.30,84.34 L463.10,84.35 L463.90,84.40 L464.70,84.53 L465.50,84.15 L466.30,84.08 L467.10,84.47 L467.90,84.34 L468.70,84.18 L469.50,84.52 L470.30,84.51 L471.10,84.30 L471.90,84.56 L472.70,84.46 L473.50,84.40 L474.30,84.12 L475.10,83.94 L475.90,84.34 L476.70,84.36 L477.50,84.13 L478.30,84.20 L479.10,84.25 L479.90,84.05 L480.70,84.31 L481.50,84.23 L482.30,84.11 L483.10,83.94 L483.90,84.21 L484.70,84.06 L485.50,84.30 L486.30,83.96 L487.10,84.09 L487.90,83.97 L488.70,84.09 L489.50,84.18 L490.30,83.90 L491.10,83.86 L491.90,84.11 L492.70,83.94 L493.50,84.12 L494.30,83.91 L495.10,83.87 L495.90,84.12 L496.70,84.35 L497.50,84.31 L498.30,84.10 L499.10,84.02 L499.90,83.82 L500.70,83.94 L501.50,83.96 L502.30,84.33 L503.10,83.83 L503.90,84.32 L504.70,84.04 L505.50,84.01 L506.30,83.90 L507.10,84.31 L507.90,83.84 L508.70,84.07 L509.50,84.02 L510.30,83.83 L511.10,83.84 L511.90,84.29 L512.00,84.00" fill="none" stroke="#2f9a2f" stroke-width="1.1" stroke-linejoin="round"/>
<line x1="483.60" y1="47.60" x2="494.20" y2="47.60" stroke="#333" stroke-width="1.0" stroke-opacity="0.9"/>
<text x="495.80" y="49.70" font-family="'Liberation Sans', sans-serif" font-size="5.8" fill="#1a1a1a" stroke="#1a1a1a" stroke-width="0.22">Target</text>
<line x1="483.60" y1="53.90" x2="494.20" y2="53.90" stroke="#ff3030" stroke-width="1.0" stroke-opacity="0.9"/>
<text x="495.80" y="56.00" font-family="'Liberation Sans', sans-serif" font-size="5.8" fill="#1a1a1a" stroke="#1a1a1a" stroke-width="0.22">SNV4</text>
<line x1="483.60" y1="60.10" x2="494.20" y2="60.10" stroke="#3a55ff" stroke-width="1.0" stroke-opacity="0.9"/>
<text x="495.80" y="62.20" font-family="'Liberation Sans', sans-serif" font-size="5.8" fill="#1a1a1a" stroke="#1a1a1a" stroke-width="0.22">SNV3</text>
<line x1="483.60" y1="66.40" x2="494.20" y2="66.40" stroke="#c040f0" stroke-width="1.0" stroke-opacity="0.9"/>
<text x="495.80" y="68.50" font-family="'Liberation Sans', sans-serif" font-size="5.8" fill="#1a1a1a" stroke="#1a1a1a" stroke-width="0.22">SNV2</text>
<line x1="483.60" y1="72.80" x2="494.20" y2="72.80" stroke="#2f9a2f" stroke-width="1.0" stroke-opacity="0.9"/>
<text x="495.80" y="74.90" font-family="'Liberation Sans', sans-serif" font-size="5.8" fill="#1a1a1a" stroke="#1a1a1a" stroke-width="0.22">SNV1</text>
<rect x="165.00" y="141.40" width="101.30" height="76.70" fill="none" stroke="#707070" stroke-width="1.1"/>
<text x="221.00" y="137.60" font-family="'Liberation Serif', serif" font-size="9.8" fill="#111" stroke="#111" stroke-width="0.25" text-anchor="middle">Tris-HCL</text>
<line x1="163.20" y1="196.40" x2="165.00" y2="196.40" stroke="#555" stroke-width="0.8"/>
<text x="162.80" y="198.70" font-family="'Liberation Sans', sans-serif" font-size="6.5" fill="#222" stroke="#222" stroke-width="0.2" text-anchor="end">100</text>
<line x1="163.20" y1="174.60" x2="165.00" y2="174.60" stroke="#555" stroke-width="0.8"/>
<text x="162.80" y="176.90" font-family="'Liberation Sans', sans-serif" font-size="6.5" fill="#222" stroke="#222" stroke-width="0.2" text-anchor="end">200</text>
<line x1="163.20" y1="152.70" x2="165.00" y2="152.70" stroke="#555" stroke-width="0.8"/>
<text x="162.80" y="155.00" font-family="'Liberation Sans', sans-serif" font-size="6.5" fill="#222" stroke="#222" stroke-width="0.2" text-anchor="end">300</text>
<line x1="163.80" y1="185.50" x2="165.00" y2="185.50" stroke="#555" stroke-width="0.6"/>
<line x1="163.80" y1="163.65" x2="165.00" y2="163.65" stroke="#555" stroke-width="0.6"/>
<line x1="165.00" y1="218.10" x2="165.00" y2="219.90" stroke="#555" stroke-width="0.8"/>
<text x="165.00" y="226.10" font-family="'Liberation Sans', sans-serif" font-size="6.5" fill="#222" stroke="#222" stroke-width="0.2" text-anchor="middle">0</text>
<line x1="210.00" y1="218.10" x2="210.00" y2="219.90" stroke="#555" stroke-width="0.8"/>
<text x="210.00" y="226.10" font-family="'Liberation Sans', sans-serif" font-size="6.5" fill="#222" stroke="#222" stroke-width="0.2" text-anchor="middle">10</text>
<line x1="255.00" y1="218.10" x2="255.00" y2="219.90" stroke="#555" stroke-width="0.8"/>
<text x="255.00" y="226.10" font-family="'Liberation Sans', sans-serif" font-size="6.5" fill="#222" stroke="#222" stroke-width="0.2" text-anchor="middle">20</text>
<line x1="187.50" y1="218.10" x2="187.50" y2="219.30" stroke="#555" stroke-width="0.6"/>
<line x1="232.50" y1="218.10" x2="232.50" y2="219.30" stroke="#555" stroke-width="0.6"/>
<text x="215.85" y="233.90" font-family="'Liberation Sans', sans-serif" font-weight="bold" font-size="6.45" fill="#111" stroke="#111" stroke-width="0.14" text-anchor="middle">Time (min)</text>
<text transform="translate(148.40,183.15) rotate(-90)" font-family="'Liberation Sans', sans-serif" font-weight="bold" font-size="6.9" fill="#111" stroke="#111" stroke-width="0.14" text-anchor="middle">RFU (a.u.)</text>
<path d="M165.00,211.30 L165.80,211.30 L166.60,211.30 L167.40,211.30 L168.20,211.30 L169.00,211.30 L169.80,211.30 L170.60,211.30 L171.40,211.30 L172.20,211.30 L173.00,211.30 L173.80,211.30 L174.60,211.30 L175.40,212.93 L176.20,200.38 L177.00,191.27 L177.80,184.53 L178.60,179.69 L179.40,175.13 L180.20,171.54 L181.00,168.49 L181.80,166.65 L182.60,163.94 L183.40,162.63 L184.20,161.64 L185.00,160.12 L185.80,158.74 L186.60,158.57 L187.40,156.82 L188.20,156.04 L189.00,155.17 L189.80,154.93 L190.60,154.78 L191.40,153.75 L192.20,153.42 L193.00,153.69 L193.80,152.73 L194.60,152.46 L195.40,152.91 L196.20,152.17 L197.00,152.46 L197.80,151.97 L198.60,152.35 L199.40,152.56 L200.20,152.15 L201.00,151.97 L201.80,152.32 L202.60,152.40 L203.40,151.76 L204.20,151.94 L205.00,152.08 L205.80,152.21 L206.60,151.98 L207.40,152.37 L208.20,151.97 L209.00,152.62 L209.80,152.07 L210.60,151.94 L211.40,151.80 L212.20,151.85 L213.00,151.94 L213.80,152.62 L214.60,152.15 L215.40,152.18 L216.20,152.70 L217.00,152.71 L217.80,152.52 L218.60,152.00 L219.40,152.09 L220.20,152.27 L221.00,152.03 L221.80,152.12 L222.60,151.99 L223.40,152.02 L224.20,152.54 L225.00,152.40 L225.80,152.24 L226.60,152.28 L227.40,152.42 L228.20,152.50 L229.00,151.84 L229.80,152.67 L230.60,152.29 L231.40,152.18 L232.20,152.80 L233.00,152.60 L233.80,152.20 L234.60,151.88 L235.40,152.30 L236.20,152.31 L237.00,152.25 L237.80,151.98 L238.60,152.46 L239.40,152.15 L240.20,152.66 L241.00,152.43 L241.80,152.20 L242.60,152.74 L243.40,152.37 L244.20,152.01 L245.00,152.21 L245.80,151.99 L246.60,152.37 L247.40,152.86 L248.20,152.89 L249.00,152.61 L249.80,152.12 L250.60,152.21 L251.40,152.18 L252.20,152.35 L253.00,152.62 L253.80,152.01 L254.60,152.48 L255.40,152.42 L256.00,152.50" fill="none" stroke="#222" stroke-width="1.1" stroke-linejoin="round"/>
<path d="M165.00,211.30 L165.80,211.30 L166.60,211.30 L167.40,211.30 L168.20,211.30 L169.00,211.30 L169.80,211.30 L170.60,211.30 L171.40,211.30 L172.20,211.30 L173.00,211.30 L173.80,211.30 L174.60,211.30 L175.40,213.30 L176.20,208.00 L177.00,198.42 L177.80,190.60 L178.60,184.79 L179.40,181.68 L180.20,179.00 L181.00,176.93 L181.80,174.79 L182.60,173.34 L183.40,172.28 L184.20,170.63 L185.00,169.86 L185.80,169.07 L186.60,167.71 L187.40,167.38 L188.20,166.43 L189.00,166.09 L189.80,165.19 L190.60,164.86 L191.40,164.35 L192.20,163.56 L193.00,163.48 L193.80,163.26 L194.60,162.94 L195.40,162.88 L196.20,162.87 L197.00,162.58 L197.80,162.40 L198.60,161.69 L199.40,161.96 L200.20,161.74 L201.00,161.84 L201.80,160.95 L202.60,160.95 L203.40,161.48 L204.20,160.89 L205.00,161.06 L205.80,160.88 L206.60,160.65 L207.40,160.62 L208.20,160.67 L209.00,160.98 L209.80,160.58 L210.60,160.75 L211.40,160.33 L212.20,160.63 L213.00,160.51 L213.80,160.60 L214.60,160.68 L215.40,160.01 L216.20,160.70 L217.00,160.39 L217.80,160.08 L218.60,160.22 L219.40,159.91 L220.20,159.99 L221.00,160.46 L221.80,160.34 L222.60,160.44 L223.40,159.86 L224.20,159.80 L225.00,160.00 L225.80,160.08 L226.60,160.23 L227.40,159.89 L228.20,160.23 L229.00,160.09 L229.80,159.84 L230.60,160.23 L231.40,159.64 L232.20,160.04 L233.00,159.71 L233.80,159.58 L234.60,159.92 L235.40,159.94 L236.20,160.00 L237.00,159.80 L237.80,160.23 L238.60,160.10 L239.40,159.59 L240.20,159.46 L241.00,160.21 L241.80,159.76 L242.60,159.51 L243.40,159.55 L244.20,159.96 L245.00,159.53 L245.80,159.68 L246.60,159.91 L247.40,159.63 L248.20,159.86 L249.00,160.09 L249.80,159.95 L250.60,159.80 L251.40,159.79 L252.20,159.52 L253.00,159.77 L253.80,159.76 L254.60,159.70 L255.40,159.61 L256.00,159.60" fill="none" stroke="#ff3030" stroke-width="1.1" stroke-linejoin="round"/>
<path d="M165.00,211.30 L165.90,211.30 L166.80,211.30 L167.70,211.30 L168.60,211.30 L169.50,211.30 L170.40,211.30 L171.30,211.30 L172.20,211.30 L173.10,211.30 L174.00,211.30 L174.90,211.30 L175.00,211.30 L175.60,213.92 L176.40,209.53 L177.20,205.61 L178.00,202.26 L178.80,199.42 L179.60,196.87 L180.40,194.35 L181.20,192.27 L182.00,190.10 L182.80,188.03 L183.60,186.45 L184.40,185.06 L185.20,183.68 L186.00,182.04 L186.80,180.79 L187.60,179.83 L188.40,178.50 L189.20,177.96 L190.00,176.42 L190.80,176.02 L191.60,175.10 L192.40,174.15 L193.20,173.71 L194.00,172.99 L194.80,172.72 L195.60,172.10 L196.40,171.35 L197.20,171.05 L198.00,170.60 L198.80,169.66 L199.60,169.71 L200.40,169.34 L201.20,169.09 L202.00,168.59 L202.80,168.02 L203.60,167.60 L204.40,167.64 L205.20,167.08 L206.00,167.22 L206.80,166.87 L207.60,166.84 L208.40,166.31 L209.20,166.09 L210.00,166.34 L210.80,166.01 L211.60,165.66 L212.40,165.65 L213.20,165.43 L214.00,165.46 L214.80,165.25 L215.60,164.98 L216.40,165.37 L217.20,165.21 L218.00,165.03 L218.80,164.61 L219.60,164.48 L220.40,164.78 L221.20,164.78 L222.00,164.60 L222.80,164.23 L223.60,164.53 L224.40,164.34 L225.20,164.19 L226.00,164.29 L226.80,164.15 L227.60,164.25 L228.40,164.29 L229.20,164.42 L230.00,163.77 L230.80,164.07 L231.60,164.30 L232.40,164.07 L233.20,163.99 L234.00,164.16 L234.80,163.56 L235.60,164.08 L236.40,163.94 L237.20,163.89 L238.00,163.69 L238.80,163.89 L239.60,163.53 L240.40,163.79 L241.20,163.59 L242.00,164.05 L242.80,163.95 L243.60,163.71 L244.40,163.90 L245.20,163.63 L246.00,163.72 L246.80,163.46 L247.60,163.94 L248.40,163.86 L249.20,163.85 L250.00,163.37 L250.80,163.88 L251.60,163.31 L252.40,163.70 L253.20,163.64 L254.00,163.33 L254.80,163.58 L255.60,163.90 L256.40,163.72" fill="none" stroke="#3a55ff" stroke-width="1.1" stroke-linejoin="round"/>
<path d="M165.00,211.30 L165.90,211.30 L166.80,211.30 L167.70,211.30 L168.60,211.30 L169.50,211.30 L170.40,211.30 L171.30,211.30 L172.20,211.30 L173.10,211.30 L174.00,211.30 L174.90,211.30 L175.00,211.30 L175.60,214.60 L176.40,211.88 L177.20,209.63 L178.00,207.07 L178.80,205.46 L179.60,203.84 L180.40,201.51 L181.20,200.12 L182.00,199.18 L182.80,197.18 L183.60,196.41 L184.40,195.02 L185.20,193.50 L186.00,192.79 L186.80,191.30 L187.60,190.87 L188.40,189.52 L189.20,189.03 L190.00,188.12 L190.80,186.74 L191.60,186.11 L192.40,185.14 L193.20,184.81 L194.00,183.62 L194.80,182.91 L195.60,182.27 L196.40,182.14 L197.20,181.09 L198.00,180.55 L198.80,180.06 L199.60,179.59 L200.40,178.96 L201.20,178.82 L202.00,177.91 L202.80,177.53 L203.60,177.35 L204.40,176.48 L205.20,176.01 L206.00,176.07 L206.80,175.32 L207.60,175.35 L208.40,174.94 L209.20,174.28 L210.00,173.92 L210.80,173.44 L211.60,173.68 L212.40,173.08 L213.20,172.73 L214.00,172.34 L214.80,172.11 L215.60,172.31 L216.40,171.55 L217.20,171.61 L218.00,171.44 L218.80,171.15 L219.60,170.93 L220.40,170.65 L221.20,170.32 L222.00,170.57 L222.80,170.45 L223.60,170.05 L224.40,169.66 L225.20,169.97 L226.00,169.32 L226.80,169.15 L227.60,169.33 L228.40,169.34 L229.20,169.03 L230.00,168.58 L230.80,169.06 L231.60,168.37 L232.40,168.39 L233.20,168.74 L234.00,168.50 L234.80,168.37 L235.60,167.80 L236.40,168.25 L237.20,167.85 L238.00,167.49 L238.80,167.96 L239.60,167.98 L240.40,167.28 L241.20,167.50 L242.00,167.74 L242.80,167.27 L243.60,167.19 L244.40,167.46 L245.20,167.16 L246.00,167.50 L246.80,167.34 L247.60,167.29 L248.40,167.13 L249.20,166.73 L250.00,167.02 L250.80,166.90 L251.60,166.79 L252.40,166.81 L253.20,166.59 L254.00,166.47 L254.80,166.93 L255.60,166.52 L256.40,166.30" fill="none" stroke="#c040f0" stroke-width="1.1" stroke-linejoin="round"/>
<path d="M165.00,211.30 L165.80,211.30 L166.60,211.30 L167.40,211.30 L168.20,211.30 L169.00,211.30 L169.80,211.30 L170.60,211.30 L171.40,211.30 L172.20,211.30 L173.00,211.30 L173.80,211.30 L174.60,211.30 L175.40,213.30 L176.20,209.69 L177.00,203.44 L177.80,197.59 L178.60,192.20 L179.40,188.12 L180.20,184.32 L181.00,181.28 L181.80,179.13 L182.60,176.95 L183.40,174.28 L184.20,172.63 L185.00,171.12 L185.80,170.30 L186.60,168.98 L187.40,168.17 L188.20,167.85 L189.00,166.76 L189.80,166.71 L190.60,165.81 L191.40,165.67 L192.20,165.25 L193.00,164.56 L193.80,164.80 L194.60,164.44 L195.40,164.21 L196.20,164.00 L197.00,164.38 L197.80,164.20 L198.60,163.95 L199.40,164.26 L200.20,163.76 L201.00,163.88 L201.80,163.59 L202.60,163.73 L203.40,164.06 L204.20,163.76 L205.00,163.48 L205.80,163.51 L206.60,163.77 L207.40,163.48 L208.20,163.89 L209.00,163.28 L209.80,163.83 L210.60,163.63 L211.40,163.75 L212.20,163.40 L213.00,163.18 L213.80,163.23 L214.60,163.53 L215.40,163.09 L216.20,163.13 L217.00,163.58 L217.80,163.63 L218.60,163.60 L219.40,163.57 L220.20,163.36 L221.00,163.57 L221.80,163.43 L222.60,163.31 L223.40,163.21 L224.20,162.91 L225.00,162.94 L225.80,163.04 L226.60,163.18 L227.40,162.93 L228.20,163.51 L229.00,163.22 L229.80,163.33 L230.60,163.42 L231.40,162.94 L232.20,163.39 L233.00,163.43 L233.80,162.94 L234.60,162.83 L235.40,163.29 L236.20,163.34 L237.00,163.27 L237.80,162.99 L238.60,163.11 L239.40,162.76 L240.20,162.83 L241.00,162.95 L241.80,163.17 L242.60,162.70 L243.40,163.28 L244.20,162.64 L245.00,163.29 L245.80,162.77 L246.60,163.16 L247.40,163.15 L248.20,163.24 L249.00,162.89 L249.80,163.03 L250.60,162.74 L251.40,163.11 L252.20,162.59 L253.00,163.12 L253.80,162.90 L254.60,162.52 L255.40,163.12 L256.00,162.80" fill="none" stroke="#2f9a2f" stroke-width="1.1" stroke-linejoin="round"/>
<line x1="229.00" y1="185.00" x2="239.20" y2="185.00" stroke="#5a6090" stroke-width="1.0" stroke-opacity="0.9"/>
<text x="240.80" y="187.10" font-family="'Liberation Sans', sans-serif" font-size="5.8" fill="#1a1a1a" stroke="#1a1a1a" stroke-width="0.22">Target</text>
<line x1="229.00" y1="191.10" x2="239.20" y2="191.10" stroke="#ff3030" stroke-width="1.0" stroke-opacity="0.9"/>
<text x="240.80" y="193.20" font-family="'Liberation Sans', sans-serif" font-size="5.8" fill="#1a1a1a" stroke="#1a1a1a" stroke-width="0.22">SNV4</text>
<line x1="229.00" y1="197.30" x2="239.20" y2="197.30" stroke="#3a55ff" stroke-width="1.0" stroke-opacity="0.9"/>
<text x="240.80" y="199.40" font-family="'Liberation Sans', sans-serif" font-size="5.8" fill="#1a1a1a" stroke="#1a1a1a" stroke-width="0.22">SNV3</text>
<line x1="229.00" y1="203.50" x2="239.20" y2="203.50" stroke="#c040f0" stroke-width="1.0" stroke-opacity="0.9"/>
<text x="240.80" y="205.60" font-family="'Liberation Sans', sans-serif" font-size="5.8" fill="#1a1a1a" stroke="#1a1a1a" stroke-width="0.22">SNV2</text>
<line x1="229.00" y1="209.80" x2="239.20" y2="209.80" stroke="#2f9a2f" stroke-width="1.0" stroke-opacity="0.9"/>
<text x="240.80" y="211.90" font-family="'Liberation Sans', sans-serif" font-size="5.8" fill="#1a1a1a" stroke="#1a1a1a" stroke-width="0.22">SNV1</text>
<rect x="291.70" y="143.30" width="103.20" height="75.10" fill="none" stroke="#707070" stroke-width="1.1"/>
<text x="344.50" y="137.60" font-family="'Liberation Serif', serif" font-size="9.8" fill="#111" stroke="#111" stroke-width="0.25" text-anchor="middle">PBS</text>
<line x1="289.90" y1="200.00" x2="291.70" y2="200.00" stroke="#555" stroke-width="0.8"/>
<text x="289.50" y="202.30" font-family="'Liberation Sans', sans-serif" font-size="6.5" fill="#222" stroke="#222" stroke-width="0.2" text-anchor="end">100</text>
<line x1="289.90" y1="181.00" x2="291.70" y2="181.00" stroke="#555" stroke-width="0.8"/>
<text x="289.50" y="183.30" font-family="'Liberation Sans', sans-serif" font-size="6.5" fill="#222" stroke="#222" stroke-width="0.2" text-anchor="end">200</text>
<line x1="289.90" y1="162.00" x2="291.70" y2="162.00" stroke="#555" stroke-width="0.8"/>
<text x="289.50" y="164.30" font-family="'Liberation Sans', sans-serif" font-size="6.5" fill="#222" stroke="#222" stroke-width="0.2" text-anchor="end">300</text>
<line x1="289.90" y1="143.00" x2="291.70" y2="143.00" stroke="#555" stroke-width="0.8"/>
<text x="289.50" y="145.30" font-family="'Liberation Sans', sans-serif" font-size="6.5" fill="#222" stroke="#222" stroke-width="0.2" text-anchor="end">400</text>
<line x1="290.50" y1="190.50" x2="291.70" y2="190.50" stroke="#555" stroke-width="0.6"/>
<line x1="290.50" y1="171.50" x2="291.70" y2="171.50" stroke="#555" stroke-width="0.6"/>
<line x1="290.50" y1="152.50" x2="291.70" y2="152.50" stroke="#555" stroke-width="0.6"/>
<line x1="292.00" y1="218.40" x2="292.00" y2="220.20" stroke="#555" stroke-width="0.8"/>
<text x="292.00" y="226.40" font-family="'Liberation Sans', sans-serif" font-size="6.5" fill="#222" stroke="#222" stroke-width="0.2" text-anchor="middle">0</text>
<line x1="307.80" y1="218.40" x2="307.80" y2="220.20" stroke="#555" stroke-width="0.8"/>
<text x="307.80" y="226.40" font-family="'Liberation Sans', sans-serif" font-size="6.5" fill="#222" stroke="#222" stroke-width="0.2" text-anchor="middle">10</text>
<line x1="323.70" y1="218.40" x2="323.70" y2="220.20" stroke="#555" stroke-width="0.8"/>
<text x="323.70" y="226.40" font-family="'Liberation Sans', sans-serif" font-size="6.5" fill="#222" stroke="#222" stroke-width="0.2" text-anchor="middle">20</text>
<line x1="339.50" y1="218.40" x2="339.50" y2="220.20" stroke="#555" stroke-width="0.8"/>
<text x="339.50" y="226.40" font-family="'Liberation Sans', sans-serif" font-size="6.5" fill="#222" stroke="#222" stroke-width="0.2" text-anchor="middle">30</text>
<line x1="355.30" y1="218.40" x2="355.30" y2="220.20" stroke="#555" stroke-width="0.8"/>
<text x="355.30" y="226.40" font-family="'Liberation Sans', sans-serif" font-size="6.5" fill="#222" stroke="#222" stroke-width="0.2" text-anchor="middle">40</text>
<line x1="371.20" y1="218.40" x2="371.20" y2="220.20" stroke="#555" stroke-width="0.8"/>
<text x="371.20" y="226.40" font-family="'Liberation Sans', sans-serif" font-size="6.5" fill="#222" stroke="#222" stroke-width="0.2" text-anchor="middle">50</text>
<line x1="387.00" y1="218.40" x2="387.00" y2="220.20" stroke="#555" stroke-width="0.8"/>
<text x="387.00" y="226.40" font-family="'Liberation Sans', sans-serif" font-size="6.5" fill="#222" stroke="#222" stroke-width="0.2" text-anchor="middle">60</text>
<text x="343.50" y="234.20" font-family="'Liberation Sans', sans-serif" font-weight="bold" font-size="6.45" fill="#111" stroke="#111" stroke-width="0.14" text-anchor="middle">Time (min)</text>
<text transform="translate(275.10,184.25) rotate(-90)" font-family="'Liberation Sans', sans-serif" font-weight="bold" font-size="6.9" fill="#111" stroke="#111" stroke-width="0.14" text-anchor="middle">RFU (a.u.)</text>
<path d="M291.70,209.70 L292.50,209.70 L293.30,209.70 L294.10,209.74 L294.90,211.66 L295.70,212.50 L296.50,200.24 L297.30,192.35 L298.10,185.75 L298.90,180.92 L299.70,177.67 L300.50,173.57 L301.30,166.97 L302.10,160.64 L302.90,157.59 L303.70,155.21 L304.50,153.35 L305.30,152.10 L306.10,151.38 L306.90,150.44 L307.70,149.51 L308.50,149.41 L309.30,148.94 L310.10,148.25 L310.90,147.77 L311.70,147.77 L312.50,148.00 L313.30,147.96 L314.10,147.43 L314.90,147.65 L315.70,147.09 L316.50,147.63 L317.30,147.43 L318.10,147.74 L318.90,147.81 L319.70,146.89 L320.50,147.86 L321.30,146.95 L322.10,147.80 L322.90,147.79 L323.70,146.93 L324.50,146.98 L325.30,146.79 L326.10,147.61 L326.90,147.42 L327.70,147.63 L328.50,147.43 L329.30,146.92 L330.10,147.36 L330.90,146.88 L331.70,146.84 L332.50,146.93 L333.30,147.22 L334.10,146.78 L334.90,147.04 L335.70,147.03 L336.50,147.27 L337.30,146.90 L338.10,146.84 L338.90,146.97 L339.70,146.86 L340.50,147.15 L341.30,146.45 L342.10,146.52 L342.90,146.36 L343.70,146.77 L344.50,147.24 L345.30,146.96 L346.10,146.99 L346.90,147.31 L347.70,147.18 L348.50,146.59 L349.30,146.51 L350.10,146.85 L350.90,146.50 L351.70,146.90 L352.50,146.32 L353.30,146.66 L354.10,147.02 L354.90,146.50 L355.70,146.37 L356.50,147.03 L357.30,146.41 L358.10,147.18 L358.90,146.86 L359.70,147.16 L360.50,146.76 L361.30,146.71 L362.10,146.45 L362.90,146.23 L363.70,147.21 L364.50,146.40 L365.30,146.24 L366.10,147.17 L366.90,146.73 L367.70,146.78 L368.50,147.15 L369.30,146.94 L370.10,146.41 L370.90,146.44 L371.70,146.84 L372.50,146.87 L373.30,146.36 L374.10,146.39 L374.90,146.67 L375.70,146.17 L376.50,146.99 L377.30,146.82 L378.10,146.26 L378.90,146.73 L379.70,146.74 L380.50,146.18 L381.30,146.55 L382.10,146.95 L382.90,146.57 L383.70,146.87 L384.50,146.32 L385.30,147.16 L386.10,146.79 L386.90,146.66 L387.00,146.60" fill="none" stroke="#222" stroke-width="1.1" stroke-linejoin="round"/>
<path d="M291.70,209.70 L292.50,209.70 L293.30,209.70 L294.10,209.74 L294.90,211.95 L295.70,213.07 L296.50,201.40 L297.30,192.66 L298.10,186.32 L298.90,181.34 L299.70,178.04 L300.50,173.66 L301.30,169.10 L302.10,164.14 L302.90,161.15 L303.70,158.50 L304.50,155.79 L305.30,154.03 L306.10,152.45 L306.90,151.57 L307.70,150.91 L308.50,150.57 L309.30,150.07 L310.10,150.00 L310.90,149.54 L311.70,149.47 L312.50,150.19 L313.30,150.10 L314.10,150.03 L314.90,149.57 L315.70,149.62 L316.50,149.66 L317.30,149.84 L318.10,149.37 L318.90,149.53 L319.70,149.53 L320.50,149.76 L321.30,149.29 L322.10,148.95 L322.90,149.29 L323.70,149.70 L324.50,149.04 L325.30,149.42 L326.10,148.95 L326.90,149.06 L327.70,149.36 L328.50,148.87 L329.30,149.17 L330.10,149.28 L330.90,149.08 L331.70,149.40 L332.50,149.47 L333.30,148.94 L334.10,149.36 L334.90,149.35 L335.70,149.19 L336.50,149.18 L337.30,149.14 L338.10,149.29 L338.90,149.23 L339.70,148.85 L340.50,149.18 L341.30,149.22 L342.10,148.99 L342.90,149.37 L343.70,148.84 L344.50,149.04 L345.30,149.04 L346.10,149.06 L346.90,148.67 L347.70,149.10 L348.50,148.59 L349.30,148.95 L350.10,148.86 L350.90,149.07 L351.70,149.20 L352.50,149.30 L353.30,148.61 L354.10,149.21 L354.90,148.80 L355.70,148.82 L356.50,148.39 L357.30,149.11 L358.10,148.53 L358.90,148.57 L359.70,148.58 L360.50,148.50 L361.30,148.54 L362.10,148.53 L362.90,148.74 L363.70,148.57 L364.50,148.92 L365.30,149.07 L366.10,149.06 L366.90,148.54 L367.70,148.81 L368.50,148.84 L369.30,148.83 L370.10,148.52 L370.90,148.33 L371.70,148.83 L372.50,148.73 L373.30,148.44 L374.10,148.72 L374.90,148.17 L375.70,148.80 L376.50,148.89 L377.30,148.95 L378.10,148.17 L378.90,148.68 L379.70,148.75 L380.50,148.16 L381.30,148.57 L382.10,148.19 L382.90,148.20 L383.70,148.02 L384.50,148.24 L385.30,148.74 L386.10,148.49 L386.90,148.67 L387.00,148.40" fill="none" stroke="#ff3030" stroke-width="1.1" stroke-linejoin="round"/>
<path d="M291.70,209.70 L292.60,209.70 L293.50,209.70 L294.00,209.70 L295.80,213.50 L296.60,209.50 L297.40,206.42 L298.20,203.98 L299.00,201.59 L299.80,199.98 L300.60,198.26 L301.40,197.08 L302.20,196.04 L303.00,194.58 L303.80,193.93 L304.60,193.01 L305.40,191.94 L306.20,191.17 L307.00,190.79 L307.80,189.70 L308.60,188.87 L309.40,188.23 L310.20,187.71 L311.00,186.96 L311.80,186.28 L312.60,185.62 L313.40,184.93 L314.20,184.53 L315.00,184.00 L315.80,183.07 L316.60,182.86 L317.40,182.11 L318.20,182.04 L319.00,181.48 L319.80,180.40 L320.60,180.29 L321.40,179.55 L322.20,178.90 L323.00,178.97 L323.80,178.53 L324.60,177.99 L325.40,177.44 L326.20,177.25 L327.00,176.53 L327.80,176.20 L328.60,175.78 L329.40,175.53 L330.20,175.14 L331.00,174.37 L331.80,173.93 L332.60,173.80 L333.40,173.48 L334.20,172.97 L335.00,172.98 L335.80,172.64 L336.60,172.20 L337.40,171.78 L338.20,171.58 L339.00,170.92 L339.80,171.05 L340.60,170.29 L341.40,170.54 L342.20,170.07 L343.00,169.55 L343.80,169.23 L344.60,169.25 L345.40,168.90 L346.20,168.81 L347.00,168.15 L347.80,168.45 L348.60,167.91 L349.40,167.68 L350.20,167.67 L351.00,167.36 L351.80,167.03 L352.60,166.71 L353.40,166.63 L354.20,166.12 L355.00,166.08 L355.80,166.29 L356.60,165.61 L357.40,165.40 L358.20,165.75 L359.00,165.25 L359.80,165.18 L360.60,165.05 L361.40,164.98 L362.20,164.54 L363.00,164.70 L363.80,164.00 L364.60,164.45 L365.40,163.92 L366.20,164.00 L367.00,163.63 L367.80,163.81 L368.60,163.41 L369.40,163.43 L370.20,163.11 L371.00,163.34 L371.80,163.18 L372.60,162.65 L373.40,162.92 L374.20,162.94 L375.00,162.33 L375.80,162.18 L376.60,162.59 L377.40,162.51 L378.20,161.82 L379.00,162.17 L379.80,162.18 L380.60,161.62 L381.40,161.88 L382.20,161.45 L383.00,161.70 L383.80,161.42 L384.60,161.31 L385.40,160.98 L386.20,161.26 L387.00,161.21 L387.80,160.85" fill="none" stroke="#3a55ff" stroke-width="1.1" stroke-linejoin="round"/>
<path d="M291.70,209.70 L292.60,209.70 L293.50,209.70 L294.00,209.70 L295.80,213.50 L296.60,210.51 L297.40,207.89 L298.20,206.11 L299.00,204.74 L299.80,203.99 L300.60,202.70 L301.40,201.81 L302.20,200.78 L303.00,199.48 L303.80,198.83 L304.60,198.43 L305.40,197.59 L306.20,196.94 L307.00,196.09 L307.80,195.30 L308.60,194.64 L309.40,194.06 L310.20,193.05 L311.00,192.12 L311.80,191.67 L312.60,190.82 L313.40,190.38 L314.20,189.99 L315.00,189.17 L315.80,188.56 L316.60,187.88 L317.40,187.49 L318.20,187.04 L319.00,186.54 L319.80,186.25 L320.60,185.11 L321.40,184.72 L322.20,184.08 L323.00,184.18 L323.80,183.47 L324.60,183.01 L325.40,182.64 L326.20,181.60 L327.00,181.77 L327.80,180.92 L328.60,180.68 L329.40,180.09 L330.20,179.90 L331.00,179.17 L331.80,178.74 L332.60,178.31 L333.40,178.25 L334.20,177.67 L335.00,177.07 L335.80,176.83 L336.60,176.61 L337.40,176.11 L338.20,175.90 L339.00,175.73 L339.80,175.24 L340.60,175.01 L341.40,174.33 L342.20,174.40 L343.00,174.12 L343.80,173.52 L344.60,172.85 L345.40,172.59 L346.20,172.76 L347.00,172.54 L347.80,172.15 L348.60,171.72 L349.40,171.46 L350.20,170.89 L351.00,170.96 L351.80,170.97 L352.60,170.16 L353.40,170.18 L354.20,170.10 L355.00,169.71 L355.80,169.26 L356.60,168.94 L357.40,169.06 L358.20,168.96 L359.00,168.70 L359.80,168.15 L360.60,168.17 L361.40,168.00 L362.20,167.49 L363.00,167.55 L363.80,167.08 L364.60,166.75 L365.40,166.42 L366.20,166.73 L367.00,166.56 L367.80,165.88 L368.60,165.71 L369.40,165.71 L370.20,165.46 L371.00,165.65 L371.80,165.10 L372.60,165.21 L373.40,165.02 L374.20,164.72 L375.00,164.92 L375.80,164.47 L376.60,164.37 L377.40,164.33 L378.20,164.00 L379.00,163.70 L379.80,164.09 L380.60,163.81 L381.40,163.53 L382.20,163.36 L383.00,163.31 L383.80,162.96 L384.60,162.67 L385.40,162.88 L386.20,163.00 L387.00,162.32 L387.80,162.82" fill="none" stroke="#c040f0" stroke-width="1.1" stroke-linejoin="round"/>
<path d="M291.70,209.70 L292.60,209.70 L293.50,209.70 L294.00,209.70 L295.80,213.40 L296.60,208.48 L297.40,204.14 L298.20,200.94 L299.00,197.52 L299.80,194.24 L300.60,191.62 L301.40,189.84 L302.20,187.81 L303.00,185.74 L303.80,183.79 L304.60,182.11 L305.40,180.76 L306.20,179.36 L307.00,178.02 L307.80,176.32 L308.60,175.55 L309.40,174.51 L310.20,173.13 L311.00,171.65 L311.80,170.82 L312.60,170.26 L313.40,169.19 L314.20,168.74 L315.00,167.71 L315.80,166.98 L316.60,165.80 L317.40,165.39 L318.20,164.86 L319.00,164.37 L319.80,163.74 L320.60,162.63 L321.40,162.25 L322.20,162.08 L323.00,160.85 L323.80,160.33 L324.60,159.94 L325.40,159.91 L326.20,159.15 L327.00,159.03 L327.80,158.72 L328.60,158.31 L329.40,157.32 L330.20,157.48 L331.00,157.23 L331.80,156.82 L332.60,156.63 L333.40,156.29 L334.20,155.84 L335.00,155.76 L335.80,155.24 L336.60,154.64 L337.40,154.53 L338.20,154.81 L339.00,154.11 L339.80,154.00 L340.60,154.12 L341.40,153.77 L342.20,153.66 L343.00,153.22 L343.80,153.08 L344.60,152.57 L345.40,152.50 L346.20,152.32 L347.00,152.47 L347.80,152.32 L348.60,151.82 L349.40,152.14 L350.20,151.59 L351.00,151.70 L351.80,151.29 L352.60,151.54 L353.40,151.17 L354.20,151.71 L355.00,151.15 L355.80,151.43 L356.60,151.03 L357.40,150.85 L358.20,151.18 L359.00,150.65 L359.80,150.77 L360.60,150.79 L361.40,151.01 L362.20,150.71 L363.00,150.12 L363.80,150.38 L364.60,150.72 L365.40,150.59 L366.20,150.15 L367.00,149.90 L367.80,149.97 L368.60,150.31 L369.40,149.80 L370.20,150.33 L371.00,149.78 L371.80,150.08 L372.60,150.05 L373.40,149.65 L374.20,149.84 L375.00,149.89 L375.80,149.57 L376.60,149.75 L377.40,149.80 L378.20,150.03 L379.00,149.46 L379.80,149.35 L380.60,149.59 L381.40,149.64 L382.20,149.53 L383.00,149.85 L383.80,149.26 L384.60,149.48 L385.40,149.43 L386.20,149.19 L387.00,149.38 L387.80,149.36" fill="none" stroke="#2f9a2f" stroke-width="1.1" stroke-linejoin="round"/>
<line x1="361.00" y1="183.00" x2="372.60" y2="183.00" stroke="#6676e0" stroke-width="1.0" stroke-opacity="0.9"/>
<text x="374.20" y="185.10" font-family="'Liberation Sans', sans-serif" font-size="5.8" fill="#2a36b0" stroke="#2a36b0" stroke-width="0.22">Target</text>
<line x1="361.00" y1="189.00" x2="372.60" y2="189.00" stroke="#ff3030" stroke-width="1.0" stroke-opacity="0.9"/>
<text x="374.20" y="191.10" font-family="'Liberation Sans', sans-serif" font-size="5.8" fill="#1a1a1a" stroke="#1a1a1a" stroke-width="0.22">SNV4</text>
<line x1="361.00" y1="195.00" x2="372.60" y2="195.00" stroke="#3a55ff" stroke-width="1.0" stroke-opacity="0.9"/>
<text x="374.20" y="197.10" font-family="'Liberation Sans', sans-serif" font-size="5.8" fill="#1a1a1a" stroke="#1a1a1a" stroke-width="0.22">SNV3</text>
<line x1="361.00" y1="201.00" x2="372.60" y2="201.00" stroke="#c040f0" stroke-width="1.0" stroke-opacity="0.9"/>
<text x="374.20" y="203.10" font-family="'Liberation Sans', sans-serif" font-size="5.8" fill="#1a1a1a" stroke="#1a1a1a" stroke-width="0.22">SNV2</text>
<line x1="361.00" y1="207.00" x2="372.60" y2="207.00" stroke="#3a8a9a" stroke-width="1.0" stroke-opacity="0.9"/>
<text x="374.20" y="209.10" font-family="'Liberation Sans', sans-serif" font-size="5.8" fill="#1a1a1a" stroke="#1a1a1a" stroke-width="0.22">SNV1</text>
<rect x="421.30" y="143.90" width="101.30" height="74.70" fill="none" stroke="#707070" stroke-width="1.1"/>
<text x="472.80" y="137.60" font-family="'Liberation Serif', serif" font-size="9.8" fill="#111" stroke="#111" stroke-width="0.25" text-anchor="middle">TAE</text>
<line x1="419.50" y1="200.00" x2="421.30" y2="200.00" stroke="#555" stroke-width="0.8"/>
<text x="419.10" y="202.30" font-family="'Liberation Sans', sans-serif" font-size="6.5" fill="#222" stroke="#222" stroke-width="0.2" text-anchor="end">100</text>
<line x1="419.50" y1="181.00" x2="421.30" y2="181.00" stroke="#555" stroke-width="0.8"/>
<text x="419.10" y="183.30" font-family="'Liberation Sans', sans-serif" font-size="6.5" fill="#222" stroke="#222" stroke-width="0.2" text-anchor="end">200</text>
<line x1="419.50" y1="162.00" x2="421.30" y2="162.00" stroke="#555" stroke-width="0.8"/>
<text x="419.10" y="164.30" font-family="'Liberation Sans', sans-serif" font-size="6.5" fill="#222" stroke="#222" stroke-width="0.2" text-anchor="end">300</text>
<line x1="419.50" y1="143.00" x2="421.30" y2="143.00" stroke="#555" stroke-width="0.8"/>
<text x="419.10" y="145.30" font-family="'Liberation Sans', sans-serif" font-size="6.5" fill="#222" stroke="#222" stroke-width="0.2" text-anchor="end">400</text>
<line x1="420.10" y1="190.50" x2="421.30" y2="190.50" stroke="#555" stroke-width="0.6"/>
<line x1="420.10" y1="171.50" x2="421.30" y2="171.50" stroke="#555" stroke-width="0.6"/>
<line x1="420.10" y1="152.50" x2="421.30" y2="152.50" stroke="#555" stroke-width="0.6"/>
<line x1="421.00" y1="218.60" x2="421.00" y2="220.40" stroke="#555" stroke-width="0.8"/>
<text x="421.00" y="226.60" font-family="'Liberation Sans', sans-serif" font-size="6.5" fill="#222" stroke="#222" stroke-width="0.2" text-anchor="middle">0</text>
<line x1="466.20" y1="218.60" x2="466.20" y2="220.40" stroke="#555" stroke-width="0.8"/>
<text x="466.20" y="226.60" font-family="'Liberation Sans', sans-serif" font-size="6.5" fill="#222" stroke="#222" stroke-width="0.2" text-anchor="middle">10</text>
<line x1="511.20" y1="218.60" x2="511.20" y2="220.40" stroke="#555" stroke-width="0.8"/>
<text x="511.20" y="226.60" font-family="'Liberation Sans', sans-serif" font-size="6.5" fill="#222" stroke="#222" stroke-width="0.2" text-anchor="middle">20</text>
<line x1="443.60" y1="218.60" x2="443.60" y2="219.80" stroke="#555" stroke-width="0.6"/>
<line x1="488.70" y1="218.60" x2="488.70" y2="219.80" stroke="#555" stroke-width="0.6"/>
<text x="472.15" y="234.40" font-family="'Liberation Sans', sans-serif" font-weight="bold" font-size="6.45" fill="#111" stroke="#111" stroke-width="0.14" text-anchor="middle">Time (min)</text>
<text transform="translate(404.70,184.65) rotate(-90)" font-family="'Liberation Sans', sans-serif" font-weight="bold" font-size="6.9" fill="#111" stroke="#111" stroke-width="0.14" text-anchor="middle">RFU (a.u.)</text>
<path d="M421.30,213.00 L421.90,213.00 L422.50,213.00 L423.10,213.00 L423.70,213.00 L424.30,213.00 L424.90,213.00 L425.50,213.00 L426.10,213.00 L426.70,213.00 L427.30,213.00 L427.90,213.00 L428.50,213.00 L429.10,213.00 L429.70,213.00 L430.30,213.00 L430.90,213.00 L431.50,213.00 L432.10,181.74 L432.70,160.21 L433.30,155.69 L433.90,153.36 L434.50,152.48 L435.10,152.10 L435.70,151.09 L436.30,150.70 L436.90,151.11 L437.50,150.06 L438.10,149.97 L438.70,149.97 L439.30,150.54 L439.90,149.99 L440.50,150.00 L441.10,150.05 L441.70,150.34 L442.30,149.44 L442.90,149.54 L443.50,149.70 L444.10,149.90 L444.70,149.35 L445.30,149.62 L445.90,149.72 L446.50,149.19 L447.10,149.43 L447.70,149.14 L448.30,149.97 L448.90,149.05 L449.50,149.18 L450.10,149.62 L450.70,149.23 L451.30,149.56 L451.90,149.32 L452.50,149.96 L453.10,149.53 L453.70,149.30 L454.30,149.12 L454.90,149.41 L455.50,149.69 L456.10,149.63 L456.70,149.61 L457.30,149.41 L457.90,149.82 L458.50,149.28 L459.10,149.42 L459.70,149.82 L460.30,149.64 L460.90,149.32 L461.50,149.64 L462.10,149.60 L462.70,149.12 L463.30,149.22 L463.90,149.57 L464.50,149.18 L465.10,149.15 L465.70,149.33 L466.30,148.86 L466.90,149.04 L467.50,149.76 L468.10,149.02 L468.70,149.57 L469.30,148.77 L469.90,149.06 L470.50,149.27 L471.10,149.06 L471.70,149.68 L472.30,149.69 L472.90,149.03 L473.50,148.86 L474.10,149.64 L474.70,149.51 L475.30,149.23 L475.90,148.77 L476.50,148.71 L477.10,149.39 L477.70,149.38 L478.30,149.16 L478.90,149.02 L479.50,148.96 L480.10,149.05 L480.70,149.10 L481.30,149.29 L481.90,149.09 L482.50,149.01 L483.10,148.89 L483.70,149.32 L484.30,149.59 L484.90,148.84 L485.50,149.42 L486.10,149.29 L486.70,148.88 L487.30,148.78 L487.90,149.48 L488.50,148.78 L489.10,148.75 L489.70,148.72 L490.30,149.44 L490.90,149.00 L491.50,148.62 L492.10,148.90 L492.70,149.13 L493.30,149.09 L493.90,148.76 L494.50,149.45 L495.10,149.30 L495.70,148.87 L496.30,148.91 L496.90,148.85 L497.50,148.61 L498.10,149.20 L498.70,148.86 L499.30,149.24 L499.90,149.41 L500.50,148.89 L501.10,148.85 L501.70,148.93 L502.30,149.04 L502.90,148.60 L503.50,148.94 L504.10,148.86 L504.70,148.66 L505.30,149.38 L505.90,149.23 L506.50,149.02 L507.10,148.60 L507.70,149.25 L508.30,148.90 L508.90,149.40 L509.50,149.16 L510.10,148.75 L510.70,149.25 L511.00,149.00" fill="none" stroke="#222" stroke-width="1.1" stroke-linejoin="round"/>
<path d="M421.30,213.00 L422.10,213.00 L422.90,213.00 L423.70,213.00 L424.50,213.00 L425.30,213.00 L426.10,213.00 L426.90,213.00 L427.70,213.00 L428.50,213.00 L429.30,213.00 L430.10,213.00 L430.90,213.00 L431.70,213.37 L432.50,171.21 L433.30,162.60 L434.10,160.15 L434.90,159.77 L435.70,158.26 L436.50,158.31 L437.30,157.08 L438.10,156.79 L438.90,156.92 L439.70,156.87 L440.50,156.70 L441.30,156.76 L442.10,156.07 L442.90,156.46 L443.70,156.04 L444.50,156.46 L445.30,156.12 L446.10,156.11 L446.90,155.60 L447.70,156.17 L448.50,155.63 L449.30,155.52 L450.10,155.66 L450.90,155.91 L451.70,155.52 L452.50,155.61 L453.30,155.69 L454.10,155.38 L454.90,155.25 L455.70,155.45 L456.50,155.68 L457.30,155.63 L458.10,155.24 L458.90,155.57 L459.70,155.70 L460.50,155.57 L461.30,155.14 L462.10,155.01 L462.90,155.75 L463.70,155.52 L464.50,155.15 L465.30,155.51 L466.10,155.37 L466.90,155.40 L467.70,155.17 L468.50,155.40 L469.30,155.16 L470.10,155.15 L470.90,155.09 L471.70,155.41 L472.50,155.50 L473.30,155.03 L474.10,154.85 L474.90,154.98 L475.70,155.37 L476.50,155.04 L477.30,154.75 L478.10,155.40 L478.90,155.06 L479.70,154.75 L480.50,155.28 L481.30,155.08 L482.10,155.33 L482.90,155.31 L483.70,155.28 L484.50,155.31 L485.30,154.89 L486.10,155.21 L486.90,154.94 L487.70,155.05 L488.50,154.68 L489.30,154.99 L490.10,154.52 L490.90,155.13 L491.70,154.57 L492.50,154.86 L493.30,155.06 L494.10,155.02 L494.90,155.02 L495.70,154.66 L496.50,154.35 L497.30,155.06 L498.10,154.50 L498.90,154.92 L499.70,154.54 L500.50,154.54 L501.30,154.60 L502.10,154.58 L502.90,154.74 L503.70,154.57 L504.50,154.21 L505.30,154.48 L506.10,154.11 L506.90,154.69 L507.70,154.13 L508.50,154.26 L509.30,154.42 L510.10,154.20 L510.90,154.62 L511.00,154.30" fill="none" stroke="#ff3030" stroke-width="1.1" stroke-linejoin="round"/>
<path d="M421.30,213.00 L422.20,213.00 L423.10,213.00 L424.00,213.00 L424.90,213.00 L425.80,213.00 L426.70,213.00 L427.60,213.00 L428.50,213.00 L429.40,213.00 L430.30,213.00 L431.20,213.00 L431.50,213.00 L432.00,213.39 L432.80,206.53 L433.60,201.28 L434.40,196.87 L435.20,193.31 L436.00,190.19 L436.80,188.57 L437.60,186.28 L438.40,184.80 L439.20,183.56 L440.00,182.85 L440.80,182.08 L441.60,181.15 L442.40,180.53 L443.20,179.86 L444.00,179.84 L444.80,179.54 L445.60,178.80 L446.40,178.60 L447.20,178.69 L448.00,178.43 L448.80,177.82 L449.60,178.22 L450.40,177.84 L451.20,177.68 L452.00,177.24 L452.80,177.55 L453.60,177.04 L454.40,177.05 L455.20,177.17 L456.00,176.95 L456.80,176.38 L457.60,176.24 L458.40,176.20 L459.20,176.04 L460.00,176.48 L460.80,176.16 L461.60,176.03 L462.40,175.87 L463.20,175.89 L464.00,175.77 L464.80,175.91 L465.60,175.62 L466.40,175.88 L467.20,175.80 L468.00,175.76 L468.80,175.62 L469.60,175.16 L470.40,175.29 L471.20,175.53 L472.00,175.15 L472.80,175.25 L473.60,174.96 L474.40,175.35 L475.20,174.96 L476.00,174.95 L476.80,175.23 L477.60,174.68 L478.40,174.59 L479.20,174.86 L480.00,174.84 L480.80,174.58 L481.60,174.75 L482.40,174.98 L483.20,175.04 L484.00,175.04 L484.80,174.93 L485.60,174.40 L486.40,174.58 L487.20,174.62 L488.00,174.31 L488.80,174.82 L489.60,174.45 L490.40,174.78 L491.20,174.69 L492.00,174.39 L492.80,174.43 L493.60,174.49 L494.40,174.29 L495.20,174.15 L496.00,174.43 L496.80,174.28 L497.60,174.29 L498.40,174.65 L499.20,174.61 L500.00,174.36 L500.80,174.08 L501.60,174.59 L502.40,174.23 L503.20,174.11 L504.00,174.56 L504.80,174.66 L505.60,174.19 L506.40,174.39 L507.20,174.62 L508.00,174.36 L508.80,174.23 L509.60,174.09 L510.40,174.00" fill="none" stroke="#3a55ff" stroke-width="1.1" stroke-linejoin="round"/>
<path d="M421.30,213.00 L422.20,213.00 L423.10,213.00 L424.00,213.00 L424.90,213.00 L425.80,213.00 L426.70,213.00 L427.60,213.00 L428.50,213.00 L429.40,213.00 L430.30,213.00 L431.20,213.00 L431.50,213.00 L432.00,213.44 L432.80,209.13 L433.60,205.24 L434.40,202.54 L435.20,199.84 L436.00,198.07 L436.80,196.12 L437.60,194.66 L438.40,193.38 L439.20,192.11 L440.00,191.19 L440.80,190.42 L441.60,189.34 L442.40,188.88 L443.20,188.46 L444.00,187.66 L444.80,187.23 L445.60,186.09 L446.40,185.95 L447.20,185.17 L448.00,185.19 L448.80,184.44 L449.60,184.18 L450.40,183.82 L451.20,183.00 L452.00,182.61 L452.80,182.76 L453.60,182.44 L454.40,181.85 L455.20,181.26 L456.00,180.97 L456.80,181.23 L457.60,180.89 L458.40,180.41 L459.20,180.38 L460.00,180.23 L460.80,179.44 L461.60,179.74 L462.40,179.69 L463.20,179.42 L464.00,179.23 L464.80,178.74 L465.60,178.68 L466.40,178.16 L467.20,178.47 L468.00,178.22 L468.80,177.89 L469.60,177.49 L470.40,177.44 L471.20,177.47 L472.00,177.70 L472.80,177.26 L473.60,177.42 L474.40,176.83 L475.20,176.76 L476.00,176.65 L476.80,176.58 L477.60,176.84 L478.40,176.44 L479.20,176.32 L480.00,176.49 L480.80,176.24 L481.60,176.46 L482.40,176.26 L483.20,176.28 L484.00,175.92 L484.80,175.83 L485.60,175.81 L486.40,176.12 L487.20,176.03 L488.00,175.71 L488.80,175.60 L489.60,175.25 L490.40,175.75 L491.20,175.52 L492.00,175.34 L492.80,175.12 L493.60,175.29 L494.40,175.41 L495.20,175.07 L496.00,175.02 L496.80,175.16 L497.60,175.11 L498.40,174.74 L499.20,174.74 L500.00,174.93 L500.80,175.13 L501.60,174.87 L502.40,174.59 L503.20,174.72 L504.00,174.66 L504.80,175.03 L505.60,174.63 L506.40,175.14 L507.20,174.63 L508.00,174.53 L508.80,174.40 L509.60,174.71 L510.40,174.71" fill="none" stroke="#c040f0" stroke-width="1.1" stroke-linejoin="round"/>
<path d="M421.30,213.00 L422.10,213.00 L422.90,213.00 L423.70,213.00 L424.50,213.00 L425.30,213.00 L426.10,213.00 L426.90,213.00 L427.70,213.00 L428.50,213.00 L429.30,213.00 L430.10,213.00 L430.90,213.00 L431.70,213.37 L432.50,190.58 L433.30,175.56 L434.10,173.30 L434.90,171.54 L435.70,171.08 L436.50,170.40 L437.30,169.53 L438.10,169.19 L438.90,169.09 L439.70,168.43 L440.50,168.13 L441.30,168.03 L442.10,167.34 L442.90,167.41 L443.70,167.33 L444.50,167.27 L445.30,167.27 L446.10,166.84 L446.90,166.92 L447.70,166.83 L448.50,166.47 L449.30,166.95 L450.10,167.02 L450.90,166.64 L451.70,166.46 L452.50,166.37 L453.30,166.39 L454.10,166.27 L454.90,166.15 L455.70,166.65 L456.50,166.14 L457.30,165.98 L458.10,166.30 L458.90,165.74 L459.70,165.99 L460.50,166.12 L461.30,166.29 L462.10,165.85 L462.90,165.62 L463.70,166.32 L464.50,165.52 L465.30,165.81 L466.10,165.85 L466.90,166.20 L467.70,165.66 L468.50,165.54 L469.30,165.55 L470.10,165.59 L470.90,165.38 L471.70,165.95 L472.50,165.62 L473.30,165.77 L474.10,165.38 L474.90,165.66 L475.70,165.83 L476.50,165.26 L477.30,165.82 L478.10,165.26 L478.90,165.58 L479.70,165.74 L480.50,165.33 L481.30,165.69 L482.10,165.24 L482.90,165.25 L483.70,165.62 L484.50,165.34 L485.30,164.88 L486.10,164.93 L486.90,165.22 L487.70,165.05 L488.50,164.80 L489.30,165.39 L490.10,164.98 L490.90,165.42 L491.70,164.97 L492.50,164.81 L493.30,164.98 L494.10,165.28 L494.90,165.33 L495.70,165.03 L496.50,164.77 L497.30,164.97 L498.10,164.74 L498.90,164.80 L499.70,164.49 L500.50,164.48 L501.30,165.20 L502.10,165.04 L502.90,164.61 L503.70,164.88 L504.50,164.40 L505.30,165.01 L506.10,164.82 L506.90,164.89 L507.70,164.63 L508.50,164.62 L509.30,164.90 L510.10,164.48 L510.90,164.26 L511.00,164.60" fill="none" stroke="#2f9a2f" stroke-width="1.1" stroke-linejoin="round"/>
<line x1="486.00" y1="188.40" x2="496.40" y2="188.40" stroke="#2a2a80" stroke-width="1.0" stroke-opacity="0.9"/>
<text x="498.00" y="190.50" font-family="'Liberation Sans', sans-serif" font-size="5.8" fill="#2a3590" stroke="#2a3590" stroke-width="0.22">Target</text>
<line x1="486.00" y1="194.40" x2="496.40" y2="194.40" stroke="#ff3030" stroke-width="1.0" stroke-opacity="0.9"/>
<text x="498.00" y="196.50" font-family="'Liberation Sans', sans-serif" font-size="5.8" fill="#1a1a1a" stroke="#1a1a1a" stroke-width="0.22">SNV4</text>
<line x1="486.00" y1="200.40" x2="496.40" y2="200.40" stroke="#3a55ff" stroke-width="1.0" stroke-opacity="0.9"/>
<text x="498.00" y="202.50" font-family="'Liberation Sans', sans-serif" font-size="5.8" fill="#1a1a1a" stroke="#1a1a1a" stroke-width="0.22">SNV3</text>
<line x1="486.00" y1="206.40" x2="496.40" y2="206.40" stroke="#c040f0" stroke-width="1.0" stroke-opacity="0.9"/>
<text x="498.00" y="208.50" font-family="'Liberation Sans', sans-serif" font-size="5.8" fill="#1a1a1a" stroke="#1a1a1a" stroke-width="0.22">SNV2</text>
<line x1="486.00" y1="212.40" x2="496.40" y2="212.40" stroke="#2a8080" stroke-width="1.0" stroke-opacity="0.9"/>
<text x="498.00" y="214.50" font-family="'Liberation Sans', sans-serif" font-size="5.8" fill="#1a1a1a" stroke="#1a1a1a" stroke-width="0.22">SNV1</text>
<text x="0.9" y="10.0" font-family="'Liberation Serif', serif" font-weight="bold" font-size="13.4" fill="#000" stroke="#000" stroke-width="0.3">A Toehold exchange</text>
<text x="1.2" y="127.3" font-family="'Liberation Serif', serif" font-weight="bold" font-size="13.1" fill="#000" stroke="#000" stroke-width="0.3">B Toehold displacem<tspan fill="#161a3c" stroke="#161a3c">ent</tspan></text>
<text x="3" y="28.20" font-family="'Liberation Serif', serif" font-size="10" fill="#111" stroke="#111" stroke-width="0.15">Target</text>
<rect x="31.00" y="23.50" width="24.30" height="1.8" fill="#2a40ff"/>
<rect x="55.30" y="23.50" width="55.20" height="1.8" fill="#ff1c1c"/>
<rect x="110.50" y="23.50" width="24.00" height="1.8" fill="#38e622"/>
<path d="M138.60,24.40 L133.40,21.80 L135.00,24.40 L133.40,27.00 Z" fill="#38e622"/>
<text text-rendering="geometricPrecision" transform="translate(31.00,29.90) scale(1.55,1)" x="0" y="0" textLength="68.52" lengthAdjust="spacing" font-family="'Liberation Serif', serif" font-weight="normal" font-size="5.8" fill="#3a3a3a" stroke="#3a3a3a" stroke-width="0.28">caaggtaggtaggtaggtaggcaag</text>
<text x="3" y="40.40" font-family="'Liberation Serif', serif" font-size="10" fill="#111" stroke="#111" stroke-width="0.15">SNV4</text>
<rect x="31.00" y="35.70" width="24.30" height="1.8" fill="#2a40ff"/>
<rect x="55.30" y="35.70" width="55.20" height="1.8" fill="#ff1c1c"/>
<rect x="110.50" y="35.70" width="24.00" height="1.8" fill="#38e622"/>
<path d="M138.60,36.60 L133.40,34.00 L135.00,36.60 L133.40,39.20 Z" fill="#38e622"/>
<text text-rendering="geometricPrecision" transform="translate(31.00,42.10) scale(1.55,1)" x="0" y="0" textLength="68.52" lengthAdjust="spacing" font-family="'Liberation Serif', serif" font-weight="normal" font-size="5.8" fill="#3a3a3a" stroke="#3a3a3a" stroke-width="0.28">caaggtaggtaggtag<tspan fill="#1a3cff" stroke="#1a3cff">a</tspan>taggcaag</text>
<text x="3" y="51.50" font-family="'Liberation Serif', serif" font-size="10" fill="#111" stroke="#111" stroke-width="0.15">SNV3</text>
<rect x="31.00" y="46.80" width="24.30" height="1.8" fill="#2a40ff"/>
<rect x="55.30" y="46.80" width="55.20" height="1.8" fill="#ff1c1c"/>
<rect x="110.50" y="46.80" width="24.00" height="1.8" fill="#38e622"/>
<path d="M138.60,47.70 L133.40,45.10 L135.00,47.70 L133.40,50.30 Z" fill="#38e622"/>
<text text-rendering="geometricPrecision" transform="translate(31.00,53.20) scale(1.55,1)" x="0" y="0" textLength="68.52" lengthAdjust="spacing" font-family="'Liberation Serif', serif" font-weight="normal" font-size="5.8" fill="#3a3a3a" stroke="#3a3a3a" stroke-width="0.28">caaggtaggtag<tspan fill="#1a3cff" stroke="#1a3cff">a</tspan>taggtaggcaag</text>
<text x="3" y="62.60" font-family="'Liberation Serif', serif" font-size="10" fill="#111" stroke="#111" stroke-width="0.15">SNV2</text>
<rect x="31.00" y="57.90" width="24.30" height="1.8" fill="#2a40ff"/>
<rect x="55.30" y="57.90" width="55.20" height="1.8" fill="#ff1c1c"/>
<rect x="110.50" y="57.90" width="24.00" height="1.8" fill="#38e622"/>
<path d="M138.60,58.80 L133.40,56.20 L135.00,58.80 L133.40,61.40 Z" fill="#38e622"/>
<text text-rendering="geometricPrecision" transform="translate(31.00,64.30) scale(1.55,1)" x="0" y="0" textLength="68.52" lengthAdjust="spacing" font-family="'Liberation Serif', serif" font-weight="normal" font-size="5.8" fill="#3a3a3a" stroke="#3a3a3a" stroke-width="0.28">caaggtag<tspan fill="#1a3cff" stroke="#1a3cff">a</tspan>taggtaggtaggcaag</text>
<text x="3" y="73.50" font-family="'Liberation Serif', serif" font-size="10" fill="#111" stroke="#111" stroke-width="0.15">SNV1</text>
<rect x="31.00" y="68.80" width="24.30" height="1.8" fill="#2a40ff"/>
<rect x="55.30" y="68.80" width="55.20" height="1.8" fill="#ff1c1c"/>
<rect x="110.50" y="68.80" width="24.00" height="1.8" fill="#38e622"/>
<path d="M138.60,69.70 L133.40,67.10 L135.00,69.70 L133.40,72.30 Z" fill="#38e622"/>
<text text-rendering="geometricPrecision" transform="translate(31.00,75.20) scale(1.55,1)" x="0" y="0" textLength="68.52" lengthAdjust="spacing" font-family="'Liberation Serif', serif" font-weight="normal" font-size="5.8" fill="#3a3a3a" stroke="#3a3a3a" stroke-width="0.28">caag<tspan fill="#1a3cff" stroke="#1a3cff">a</tspan>taggtaggtaggtaggcaag</text>
<text x="1.5" y="98.60" font-family="'Liberation Serif', serif" font-size="10" fill="#111" stroke="#111" stroke-width="0.15">Probe1</text>
<rect x="57.00" y="86.50" width="51.00" height="1.8" fill="#ff1c1c"/>
<rect x="108.00" y="86.50" width="20.00" height="1.8" fill="#7a3fd0"/>
<path d="M132.00,87.40 L126.80,84.80 L128.40,87.40 L126.80,90.00 Z" fill="#7a3fd0"/>
<polygon points="134.00,84.00 135.11,86.67 137.99,86.90 135.80,88.78 136.47,91.60 134.00,90.09 131.53,91.60 132.20,88.78 130.01,86.90 132.89,86.67" fill="#48c238"/>
<text text-rendering="geometricPrecision" transform="translate(57.50,93.00) scale(1.55,1)" x="0" y="0" textLength="46.45" lengthAdjust="spacing" font-family="'Liberation Serif', serif" font-weight="normal" font-size="5.8" fill="#3a3a3a" stroke="#3a3a3a" stroke-width="0.28">aggtaggtaggtatctgtc</text>
<text text-rendering="geometricPrecision" transform="translate(35.20,99.20) scale(1.55,1)" x="0" y="0" textLength="63.10" lengthAdjust="spacing" font-family="'Liberation Serif', serif" font-weight="normal" font-size="5.8" fill="#3a3a3a" stroke="#3a3a3a" stroke-width="0.28">gttccatccatccatccatagacag</text>
<path d="M34.40,102.00 L39.60,99.80 L38.00,102.00 L39.60,104.20 Z" fill="#2a40ff"/>
<rect x="38.00" y="101.10" width="20.40" height="1.8" fill="#2a40ff"/>
<rect x="58.40" y="101.10" width="49.10" height="1.8" fill="#ff1c1c"/>
<rect x="107.50" y="101.10" width="26.50" height="1.8" fill="#7a3fd0"/>
<ellipse cx="135.3" cy="101.60" rx="3.3" ry="2.6" fill="#000"/>
<text x="3" y="147.80" font-family="'Liberation Serif', serif" font-size="10" fill="#111" stroke="#111" stroke-width="0.15">Target</text>
<rect x="32.20" y="142.60" width="24.30" height="1.8" fill="#2a40ff"/>
<rect x="56.50" y="142.60" width="55.20" height="1.8" fill="#ff1c1c"/>
<rect x="111.70" y="142.60" width="24.00" height="1.8" fill="#38e622"/>
<path d="M139.80,143.50 L134.60,140.90 L136.20,143.50 L134.60,146.10 Z" fill="#38e622"/>
<text text-rendering="geometricPrecision" transform="translate(32.20,149.00) scale(1.55,1)" x="0" y="0" textLength="68.13" lengthAdjust="spacing" font-family="'Liberation Serif', serif" font-weight="normal" font-size="5.8" fill="#3a3a3a" stroke="#3a3a3a" stroke-width="0.28">caaggtaggtaggtaggtaggcaag</text>
<text x="3" y="160.00" font-family="'Liberation Serif', serif" font-size="10" fill="#111" stroke="#111" stroke-width="0.15">SNV4</text>
<rect x="32.20" y="154.80" width="24.30" height="1.8" fill="#2a40ff"/>
<rect x="56.50" y="154.80" width="55.20" height="1.8" fill="#ff1c1c"/>
<rect x="111.70" y="154.80" width="24.00" height="1.8" fill="#38e622"/>
<path d="M139.80,155.70 L134.60,153.10 L136.20,155.70 L134.60,158.30 Z" fill="#38e622"/>
<text text-rendering="geometricPrecision" transform="translate(32.20,161.20) scale(1.55,1)" x="0" y="0" textLength="68.13" lengthAdjust="spacing" font-family="'Liberation Serif', serif" font-weight="normal" font-size="5.8" fill="#3a3a3a" stroke="#3a3a3a" stroke-width="0.28">caaggtaggtaggtag<tspan fill="#1a3cff" stroke="#1a3cff">a</tspan>taggcaag</text>
<text x="3" y="171.10" font-family="'Liberation Serif', serif" font-size="10" fill="#111" stroke="#111" stroke-width="0.15">SNV3</text>
<rect x="32.20" y="165.90" width="24.30" height="1.8" fill="#2a40ff"/>
<rect x="56.50" y="165.90" width="55.20" height="1.8" fill="#ff1c1c"/>
<rect x="111.70" y="165.90" width="24.00" height="1.8" fill="#38e622"/>
<path d="M139.80,166.80 L134.60,164.20 L136.20,166.80 L134.60,169.40 Z" fill="#38e622"/>
<text text-rendering="geometricPrecision" transform="translate(32.20,172.30) scale(1.55,1)" x="0" y="0" textLength="68.13" lengthAdjust="spacing" font-family="'Liberation Serif', serif" font-weight="normal" font-size="5.8" fill="#3a3a3a" stroke="#3a3a3a" stroke-width="0.28">caaggtaggtag<tspan fill="#1a3cff" stroke="#1a3cff">a</tspan>taggtaggcaag</text>
<text x="3" y="182.20" font-family="'Liberation Serif', serif" font-size="10" fill="#111" stroke="#111" stroke-width="0.15">SNV2</text>
<rect x="32.20" y="177.00" width="24.30" height="1.8" fill="#2a40ff"/>
<rect x="56.50" y="177.00" width="55.20" height="1.8" fill="#ff1c1c"/>
<rect x="111.70" y="177.00" width="24.00" height="1.8" fill="#38e622"/>
<path d="M139.80,177.90 L134.60,175.30 L136.20,177.90 L134.60,180.50 Z" fill="#38e622"/>
<text text-rendering="geometricPrecision" transform="translate(32.20,183.40) scale(1.55,1)" x="0" y="0" textLength="68.13" lengthAdjust="spacing" font-family="'Liberation Serif', serif" font-weight="normal" font-size="5.8" fill="#3a3a3a" stroke="#3a3a3a" stroke-width="0.28">caaggtag<tspan fill="#1a3cff" stroke="#1a3cff">a</tspan>taggtaggtaggcaag</text>
<text x="3" y="193.10" font-family="'Liberation Serif', serif" font-size="10" fill="#111" stroke="#111" stroke-width="0.15">SNV1</text>
<rect x="32.20" y="187.90" width="24.30" height="1.8" fill="#2a40ff"/>
<rect x="56.50" y="187.90" width="55.20" height="1.8" fill="#ff1c1c"/>
<rect x="111.70" y="187.90" width="24.00" height="1.8" fill="#38e622"/>
<path d="M139.80,188.80 L134.60,186.20 L136.20,188.80 L134.60,191.40 Z" fill="#38e622"/>
<text text-rendering="geometricPrecision" transform="translate(32.20,194.30) scale(1.55,1)" x="0" y="0" textLength="68.13" lengthAdjust="spacing" font-family="'Liberation Serif', serif" font-weight="normal" font-size="5.8" fill="#3a3a3a" stroke="#3a3a3a" stroke-width="0.28">caag<tspan fill="#1a3cff" stroke="#1a3cff">a</tspan>taggtaggtaggtaggcaag</text>
<text x="1" y="217" font-family="'Liberation Serif', serif" font-size="10" fill="#111" stroke="#111" stroke-width="0.15">Probe2</text>
<rect x="56.60" y="205.60" width="48.40" height="1.8" fill="#ff1c1c"/>
<path d="M110.00,206.50 L104.80,203.90 L106.40,206.50 L104.80,209.10 Z" fill="#ff1c1c"/>
<polygon points="112.60,202.70 113.71,205.37 116.59,205.60 114.40,207.48 115.07,210.30 112.60,208.79 110.13,210.30 110.80,207.48 108.61,205.60 111.49,205.37" fill="#48c238"/>
<text text-rendering="geometricPrecision" transform="translate(57.10,211.20) scale(1.55,1)" x="0" y="0" textLength="33.61" lengthAdjust="spacing" font-family="'Liberation Serif', serif" font-weight="normal" font-size="5.8" fill="#3a3a3a" stroke="#3a3a3a" stroke-width="0.28">aggtaggtaggta</text>
<text text-rendering="geometricPrecision" transform="translate(35.30,217.50) scale(1.55,1)" x="0" y="0" textLength="45.94" lengthAdjust="spacing" font-family="'Liberation Serif', serif" font-weight="normal" font-size="5.8" fill="#3a3a3a" stroke="#3a3a3a" stroke-width="0.28">gttccatccatccatccat</text>
<path d="M34.80,219.80 L40.00,217.60 L38.40,219.80 L40.00,222.00 Z" fill="#2a40ff"/>
<rect x="38.40" y="218.90" width="20.00" height="1.8" fill="#2a40ff"/>
<rect x="58.40" y="218.90" width="50.10" height="1.8" fill="#ff1c1c"/>
<ellipse cx="111.3" cy="219.3" rx="3.7" ry="2.8" fill="#000"/>
</svg></body></html>
